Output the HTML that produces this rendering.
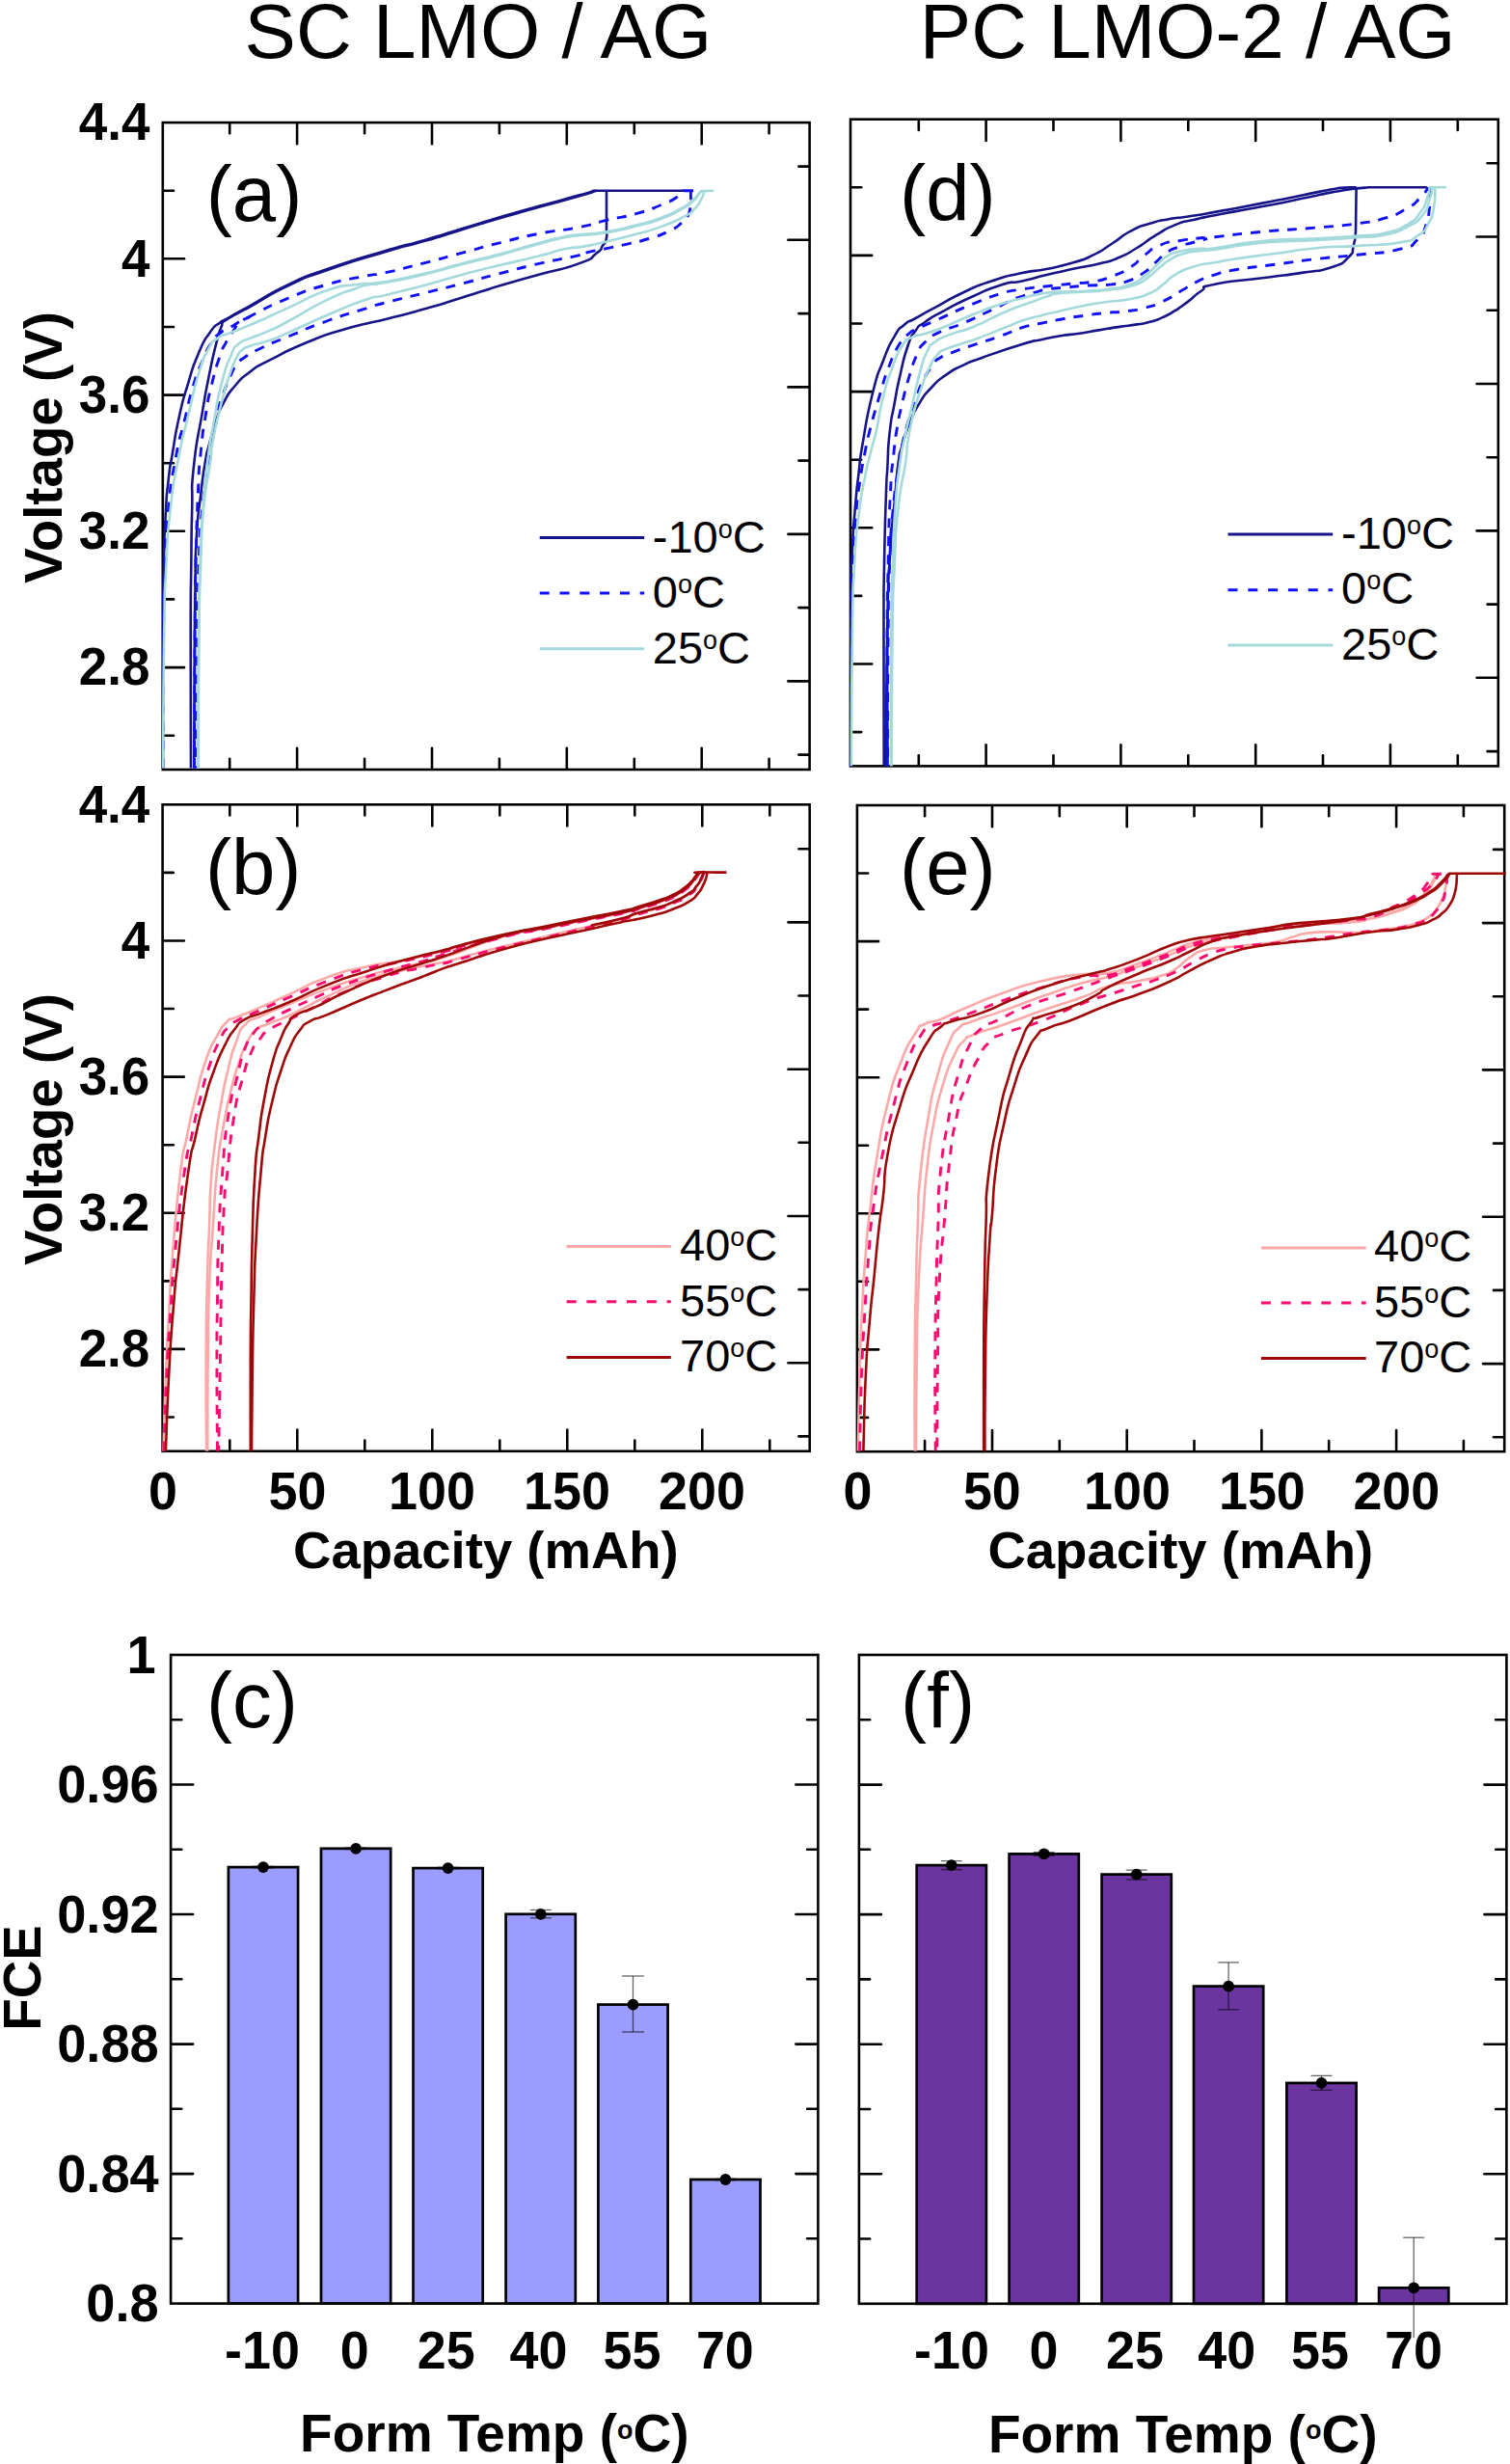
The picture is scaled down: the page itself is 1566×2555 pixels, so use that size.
<!DOCTYPE html>
<html lang="en"><head><meta charset="utf-8"><title>Figure</title>
<style>html,body{margin:0;padding:0;background:#fff}svg{display:block}</style></head>
<body>
<svg width="1566" height="2555" viewBox="0 0 1566 2555" font-family="'Liberation Sans', Arial, sans-serif" fill="#000">
<rect width="1566" height="2555" fill="#fff"/>
<text x="495.9" y="60.3" font-size="80" text-anchor="middle" >SC LMO / AG</text>
<text x="1231.7" y="59.7" font-size="80" text-anchor="middle" >PC LMO-2 / AG</text>
<clipPath id="cpa"><rect x="167.3" y="127.1" width="673.8" height="672.2"/></clipPath>
<clipPath id="cpb"><rect x="167.1" y="834.3" width="674.1" height="671.8"/></clipPath>
<clipPath id="cpd"><rect x="880.5" y="123.7" width="674.8" height="672.0"/></clipPath>
<clipPath id="cpe"><rect x="887.4" y="835.0" width="674.3" height="671.5"/></clipPath>
<rect x="168.8" y="127.1" width="670.8" height="670.9" fill="none" stroke="#000" stroke-width="2.6"/>
<line x1="238.2" y1="127.7" x2="238.2" y2="138.3" stroke="#000" stroke-width="2.6" stroke-linecap="round"/>
<line x1="238.2" y1="797.4" x2="238.2" y2="786.8" stroke="#000" stroke-width="2.6" stroke-linecap="round"/>
<line x1="308.1" y1="127.7" x2="308.1" y2="149.3" stroke="#000" stroke-width="2.6" stroke-linecap="round"/>
<line x1="308.1" y1="797.4" x2="308.1" y2="775.8" stroke="#000" stroke-width="2.6" stroke-linecap="round"/>
<line x1="378.1" y1="127.7" x2="378.1" y2="138.3" stroke="#000" stroke-width="2.6" stroke-linecap="round"/>
<line x1="378.1" y1="797.4" x2="378.1" y2="786.8" stroke="#000" stroke-width="2.6" stroke-linecap="round"/>
<line x1="448.0" y1="127.7" x2="448.0" y2="149.3" stroke="#000" stroke-width="2.6" stroke-linecap="round"/>
<line x1="448.0" y1="797.4" x2="448.0" y2="775.8" stroke="#000" stroke-width="2.6" stroke-linecap="round"/>
<line x1="517.9" y1="127.7" x2="517.9" y2="138.3" stroke="#000" stroke-width="2.6" stroke-linecap="round"/>
<line x1="517.9" y1="797.4" x2="517.9" y2="786.8" stroke="#000" stroke-width="2.6" stroke-linecap="round"/>
<line x1="587.8" y1="127.7" x2="587.8" y2="149.3" stroke="#000" stroke-width="2.6" stroke-linecap="round"/>
<line x1="587.8" y1="797.4" x2="587.8" y2="775.8" stroke="#000" stroke-width="2.6" stroke-linecap="round"/>
<line x1="657.8" y1="127.7" x2="657.8" y2="138.3" stroke="#000" stroke-width="2.6" stroke-linecap="round"/>
<line x1="657.8" y1="797.4" x2="657.8" y2="786.8" stroke="#000" stroke-width="2.6" stroke-linecap="round"/>
<line x1="727.7" y1="127.7" x2="727.7" y2="149.3" stroke="#000" stroke-width="2.6" stroke-linecap="round"/>
<line x1="727.7" y1="797.4" x2="727.7" y2="775.8" stroke="#000" stroke-width="2.6" stroke-linecap="round"/>
<line x1="797.6" y1="127.7" x2="797.6" y2="138.3" stroke="#000" stroke-width="2.6" stroke-linecap="round"/>
<line x1="797.6" y1="797.4" x2="797.6" y2="786.8" stroke="#000" stroke-width="2.6" stroke-linecap="round"/>
<line x1="169.4" y1="197.7" x2="180.0" y2="197.7" stroke="#000" stroke-width="2.6" stroke-linecap="round"/>
<line x1="169.4" y1="268.3" x2="191.0" y2="268.3" stroke="#000" stroke-width="2.6" stroke-linecap="round"/>
<line x1="169.4" y1="339.0" x2="180.0" y2="339.0" stroke="#000" stroke-width="2.6" stroke-linecap="round"/>
<line x1="169.4" y1="409.6" x2="191.0" y2="409.6" stroke="#000" stroke-width="2.6" stroke-linecap="round"/>
<line x1="169.4" y1="480.2" x2="180.0" y2="480.2" stroke="#000" stroke-width="2.6" stroke-linecap="round"/>
<line x1="169.4" y1="550.8" x2="191.0" y2="550.8" stroke="#000" stroke-width="2.6" stroke-linecap="round"/>
<line x1="169.4" y1="621.4" x2="180.0" y2="621.4" stroke="#000" stroke-width="2.6" stroke-linecap="round"/>
<line x1="169.4" y1="692.1" x2="191.0" y2="692.1" stroke="#000" stroke-width="2.6" stroke-linecap="round"/>
<line x1="169.4" y1="762.7" x2="180.0" y2="762.7" stroke="#000" stroke-width="2.6" stroke-linecap="round"/>
<line x1="839.0" y1="172.6" x2="828.4" y2="172.6" stroke="#000" stroke-width="2.6" stroke-linecap="round"/>
<line x1="839.0" y1="248.8" x2="817.4" y2="248.8" stroke="#000" stroke-width="2.6" stroke-linecap="round"/>
<line x1="839.0" y1="325.1" x2="828.4" y2="325.1" stroke="#000" stroke-width="2.6" stroke-linecap="round"/>
<line x1="839.0" y1="401.4" x2="817.4" y2="401.4" stroke="#000" stroke-width="2.6" stroke-linecap="round"/>
<line x1="839.0" y1="477.6" x2="828.4" y2="477.6" stroke="#000" stroke-width="2.6" stroke-linecap="round"/>
<line x1="839.0" y1="553.9" x2="817.4" y2="553.9" stroke="#000" stroke-width="2.6" stroke-linecap="round"/>
<line x1="839.0" y1="630.1" x2="828.4" y2="630.1" stroke="#000" stroke-width="2.6" stroke-linecap="round"/>
<line x1="839.0" y1="706.4" x2="817.4" y2="706.4" stroke="#000" stroke-width="2.6" stroke-linecap="round"/>
<line x1="839.0" y1="782.6" x2="828.4" y2="782.6" stroke="#000" stroke-width="2.6" stroke-linecap="round"/>
<text transform="translate(155.4,145.4) scale(0.945,1)" font-size="56" font-weight="bold" text-anchor="end" >4.4</text>
<text transform="translate(155.4,286.6) scale(0.945,1)" font-size="56" font-weight="bold" text-anchor="end" >4</text>
<text transform="translate(155.4,427.9) scale(0.945,1)" font-size="56" font-weight="bold" text-anchor="end" >3.6</text>
<text transform="translate(155.4,569.1) scale(0.945,1)" font-size="56" font-weight="bold" text-anchor="end" >3.2</text>
<text transform="translate(155.4,710.4) scale(0.945,1)" font-size="56" font-weight="bold" text-anchor="end" >2.8</text>
<text x="213.7" y="228.5" font-size="81.5" text-anchor="start" >(a)</text>
<rect x="168.6" y="834.3" width="671.1" height="670.5" fill="none" stroke="#000" stroke-width="2.6"/>
<line x1="238.3" y1="834.9" x2="238.3" y2="845.5" stroke="#000" stroke-width="2.6" stroke-linecap="round"/>
<line x1="238.3" y1="1504.2" x2="238.3" y2="1493.6" stroke="#000" stroke-width="2.6" stroke-linecap="round"/>
<line x1="308.3" y1="834.9" x2="308.3" y2="856.5" stroke="#000" stroke-width="2.6" stroke-linecap="round"/>
<line x1="308.3" y1="1504.2" x2="308.3" y2="1482.6" stroke="#000" stroke-width="2.6" stroke-linecap="round"/>
<line x1="378.3" y1="834.9" x2="378.3" y2="845.5" stroke="#000" stroke-width="2.6" stroke-linecap="round"/>
<line x1="378.3" y1="1504.2" x2="378.3" y2="1493.6" stroke="#000" stroke-width="2.6" stroke-linecap="round"/>
<line x1="448.3" y1="834.9" x2="448.3" y2="856.5" stroke="#000" stroke-width="2.6" stroke-linecap="round"/>
<line x1="448.3" y1="1504.2" x2="448.3" y2="1482.6" stroke="#000" stroke-width="2.6" stroke-linecap="round"/>
<line x1="518.3" y1="834.9" x2="518.3" y2="845.5" stroke="#000" stroke-width="2.6" stroke-linecap="round"/>
<line x1="518.3" y1="1504.2" x2="518.3" y2="1493.6" stroke="#000" stroke-width="2.6" stroke-linecap="round"/>
<line x1="588.3" y1="834.9" x2="588.3" y2="856.5" stroke="#000" stroke-width="2.6" stroke-linecap="round"/>
<line x1="588.3" y1="1504.2" x2="588.3" y2="1482.6" stroke="#000" stroke-width="2.6" stroke-linecap="round"/>
<line x1="658.3" y1="834.9" x2="658.3" y2="845.5" stroke="#000" stroke-width="2.6" stroke-linecap="round"/>
<line x1="658.3" y1="1504.2" x2="658.3" y2="1493.6" stroke="#000" stroke-width="2.6" stroke-linecap="round"/>
<line x1="728.3" y1="834.9" x2="728.3" y2="856.5" stroke="#000" stroke-width="2.6" stroke-linecap="round"/>
<line x1="728.3" y1="1504.2" x2="728.3" y2="1482.6" stroke="#000" stroke-width="2.6" stroke-linecap="round"/>
<line x1="798.3" y1="834.9" x2="798.3" y2="845.5" stroke="#000" stroke-width="2.6" stroke-linecap="round"/>
<line x1="798.3" y1="1504.2" x2="798.3" y2="1493.6" stroke="#000" stroke-width="2.6" stroke-linecap="round"/>
<line x1="169.2" y1="904.9" x2="179.8" y2="904.9" stroke="#000" stroke-width="2.6" stroke-linecap="round"/>
<line x1="169.2" y1="975.5" x2="190.8" y2="975.5" stroke="#000" stroke-width="2.6" stroke-linecap="round"/>
<line x1="169.2" y1="1046.0" x2="179.8" y2="1046.0" stroke="#000" stroke-width="2.6" stroke-linecap="round"/>
<line x1="169.2" y1="1116.6" x2="190.8" y2="1116.6" stroke="#000" stroke-width="2.6" stroke-linecap="round"/>
<line x1="169.2" y1="1187.2" x2="179.8" y2="1187.2" stroke="#000" stroke-width="2.6" stroke-linecap="round"/>
<line x1="169.2" y1="1257.8" x2="190.8" y2="1257.8" stroke="#000" stroke-width="2.6" stroke-linecap="round"/>
<line x1="169.2" y1="1328.4" x2="179.8" y2="1328.4" stroke="#000" stroke-width="2.6" stroke-linecap="round"/>
<line x1="169.2" y1="1398.9" x2="190.8" y2="1398.9" stroke="#000" stroke-width="2.6" stroke-linecap="round"/>
<line x1="169.2" y1="1469.5" x2="179.8" y2="1469.5" stroke="#000" stroke-width="2.6" stroke-linecap="round"/>
<line x1="839.1" y1="880.2" x2="828.5" y2="880.2" stroke="#000" stroke-width="2.6" stroke-linecap="round"/>
<line x1="839.1" y1="956.4" x2="817.5" y2="956.4" stroke="#000" stroke-width="2.6" stroke-linecap="round"/>
<line x1="839.1" y1="1032.5" x2="828.5" y2="1032.5" stroke="#000" stroke-width="2.6" stroke-linecap="round"/>
<line x1="839.1" y1="1108.7" x2="817.5" y2="1108.7" stroke="#000" stroke-width="2.6" stroke-linecap="round"/>
<line x1="839.1" y1="1184.8" x2="828.5" y2="1184.8" stroke="#000" stroke-width="2.6" stroke-linecap="round"/>
<line x1="839.1" y1="1261.0" x2="817.5" y2="1261.0" stroke="#000" stroke-width="2.6" stroke-linecap="round"/>
<line x1="839.1" y1="1337.1" x2="828.5" y2="1337.1" stroke="#000" stroke-width="2.6" stroke-linecap="round"/>
<line x1="839.1" y1="1413.2" x2="817.5" y2="1413.2" stroke="#000" stroke-width="2.6" stroke-linecap="round"/>
<line x1="839.1" y1="1489.4" x2="828.5" y2="1489.4" stroke="#000" stroke-width="2.6" stroke-linecap="round"/>
<text transform="translate(155.2,852.6) scale(0.945,1)" font-size="56" font-weight="bold" text-anchor="end" >4.4</text>
<text transform="translate(155.2,993.8) scale(0.945,1)" font-size="56" font-weight="bold" text-anchor="end" >4</text>
<text transform="translate(155.2,1134.9) scale(0.945,1)" font-size="56" font-weight="bold" text-anchor="end" >3.6</text>
<text transform="translate(155.2,1276.1) scale(0.945,1)" font-size="56" font-weight="bold" text-anchor="end" >3.2</text>
<text transform="translate(155.2,1417.2) scale(0.945,1)" font-size="56" font-weight="bold" text-anchor="end" >2.8</text>
<text transform="translate(169.0,1564.8) scale(0.97,1)" font-size="55.5" font-weight="bold" text-anchor="middle" >0</text>
<text transform="translate(308.5,1564.8) scale(0.97,1)" font-size="55.5" font-weight="bold" text-anchor="middle" >50</text>
<text transform="translate(448.0,1564.8) scale(0.97,1)" font-size="55.5" font-weight="bold" text-anchor="middle" >100</text>
<text transform="translate(588.0,1564.8) scale(0.97,1)" font-size="55.5" font-weight="bold" text-anchor="middle" >150</text>
<text transform="translate(728.0,1564.8) scale(0.97,1)" font-size="55.5" font-weight="bold" text-anchor="middle" >200</text>
<text x="212.9" y="927.3" font-size="81.5" text-anchor="start" >(b)</text>
<rect x="882.0" y="123.7" width="671.8" height="670.7" fill="none" stroke="#000" stroke-width="2.6"/>
<line x1="952.8" y1="124.3" x2="952.8" y2="134.9" stroke="#000" stroke-width="2.6" stroke-linecap="round"/>
<line x1="952.8" y1="793.8" x2="952.8" y2="783.2" stroke="#000" stroke-width="2.6" stroke-linecap="round"/>
<line x1="1022.6" y1="124.3" x2="1022.6" y2="145.9" stroke="#000" stroke-width="2.6" stroke-linecap="round"/>
<line x1="1022.6" y1="793.8" x2="1022.6" y2="772.2" stroke="#000" stroke-width="2.6" stroke-linecap="round"/>
<line x1="1092.5" y1="124.3" x2="1092.5" y2="134.9" stroke="#000" stroke-width="2.6" stroke-linecap="round"/>
<line x1="1092.5" y1="793.8" x2="1092.5" y2="783.2" stroke="#000" stroke-width="2.6" stroke-linecap="round"/>
<line x1="1162.4" y1="124.3" x2="1162.4" y2="145.9" stroke="#000" stroke-width="2.6" stroke-linecap="round"/>
<line x1="1162.4" y1="793.8" x2="1162.4" y2="772.2" stroke="#000" stroke-width="2.6" stroke-linecap="round"/>
<line x1="1232.3" y1="124.3" x2="1232.3" y2="134.9" stroke="#000" stroke-width="2.6" stroke-linecap="round"/>
<line x1="1232.3" y1="793.8" x2="1232.3" y2="783.2" stroke="#000" stroke-width="2.6" stroke-linecap="round"/>
<line x1="1302.2" y1="124.3" x2="1302.2" y2="145.9" stroke="#000" stroke-width="2.6" stroke-linecap="round"/>
<line x1="1302.2" y1="793.8" x2="1302.2" y2="772.2" stroke="#000" stroke-width="2.6" stroke-linecap="round"/>
<line x1="1372.0" y1="124.3" x2="1372.0" y2="134.9" stroke="#000" stroke-width="2.6" stroke-linecap="round"/>
<line x1="1372.0" y1="793.8" x2="1372.0" y2="783.2" stroke="#000" stroke-width="2.6" stroke-linecap="round"/>
<line x1="1441.9" y1="124.3" x2="1441.9" y2="145.9" stroke="#000" stroke-width="2.6" stroke-linecap="round"/>
<line x1="1441.9" y1="793.8" x2="1441.9" y2="772.2" stroke="#000" stroke-width="2.6" stroke-linecap="round"/>
<line x1="1511.8" y1="124.3" x2="1511.8" y2="134.9" stroke="#000" stroke-width="2.6" stroke-linecap="round"/>
<line x1="1511.8" y1="793.8" x2="1511.8" y2="783.2" stroke="#000" stroke-width="2.6" stroke-linecap="round"/>
<line x1="882.6" y1="194.3" x2="893.2" y2="194.3" stroke="#000" stroke-width="2.6" stroke-linecap="round"/>
<line x1="882.6" y1="264.9" x2="904.2" y2="264.9" stroke="#000" stroke-width="2.6" stroke-linecap="round"/>
<line x1="882.6" y1="335.5" x2="893.2" y2="335.5" stroke="#000" stroke-width="2.6" stroke-linecap="round"/>
<line x1="882.6" y1="406.1" x2="904.2" y2="406.1" stroke="#000" stroke-width="2.6" stroke-linecap="round"/>
<line x1="882.6" y1="476.7" x2="893.2" y2="476.7" stroke="#000" stroke-width="2.6" stroke-linecap="round"/>
<line x1="882.6" y1="547.3" x2="904.2" y2="547.3" stroke="#000" stroke-width="2.6" stroke-linecap="round"/>
<line x1="882.6" y1="617.9" x2="893.2" y2="617.9" stroke="#000" stroke-width="2.6" stroke-linecap="round"/>
<line x1="882.6" y1="688.5" x2="904.2" y2="688.5" stroke="#000" stroke-width="2.6" stroke-linecap="round"/>
<line x1="882.6" y1="759.1" x2="893.2" y2="759.1" stroke="#000" stroke-width="2.6" stroke-linecap="round"/>
<line x1="1553.2" y1="169.3" x2="1542.6" y2="169.3" stroke="#000" stroke-width="2.6" stroke-linecap="round"/>
<line x1="1553.2" y1="245.5" x2="1531.6" y2="245.5" stroke="#000" stroke-width="2.6" stroke-linecap="round"/>
<line x1="1553.2" y1="321.7" x2="1542.6" y2="321.7" stroke="#000" stroke-width="2.6" stroke-linecap="round"/>
<line x1="1553.2" y1="398.0" x2="1531.6" y2="398.0" stroke="#000" stroke-width="2.6" stroke-linecap="round"/>
<line x1="1553.2" y1="474.2" x2="1542.6" y2="474.2" stroke="#000" stroke-width="2.6" stroke-linecap="round"/>
<line x1="1553.2" y1="550.4" x2="1531.6" y2="550.4" stroke="#000" stroke-width="2.6" stroke-linecap="round"/>
<line x1="1553.2" y1="626.6" x2="1542.6" y2="626.6" stroke="#000" stroke-width="2.6" stroke-linecap="round"/>
<line x1="1553.2" y1="702.8" x2="1531.6" y2="702.8" stroke="#000" stroke-width="2.6" stroke-linecap="round"/>
<line x1="1553.2" y1="779.1" x2="1542.6" y2="779.1" stroke="#000" stroke-width="2.6" stroke-linecap="round"/>
<text x="933.0" y="227.8" font-size="81.5" text-anchor="start" >(d)</text>
<rect x="888.9" y="835.0" width="671.3" height="670.2" fill="none" stroke="#000" stroke-width="2.6"/>
<line x1="959.1" y1="835.6" x2="959.1" y2="846.2" stroke="#000" stroke-width="2.6" stroke-linecap="round"/>
<line x1="959.1" y1="1504.6" x2="959.1" y2="1494.0" stroke="#000" stroke-width="2.6" stroke-linecap="round"/>
<line x1="1029.0" y1="835.6" x2="1029.0" y2="857.2" stroke="#000" stroke-width="2.6" stroke-linecap="round"/>
<line x1="1029.0" y1="1504.6" x2="1029.0" y2="1483.0" stroke="#000" stroke-width="2.6" stroke-linecap="round"/>
<line x1="1098.8" y1="835.6" x2="1098.8" y2="846.2" stroke="#000" stroke-width="2.6" stroke-linecap="round"/>
<line x1="1098.8" y1="1504.6" x2="1098.8" y2="1494.0" stroke="#000" stroke-width="2.6" stroke-linecap="round"/>
<line x1="1168.7" y1="835.6" x2="1168.7" y2="857.2" stroke="#000" stroke-width="2.6" stroke-linecap="round"/>
<line x1="1168.7" y1="1504.6" x2="1168.7" y2="1483.0" stroke="#000" stroke-width="2.6" stroke-linecap="round"/>
<line x1="1238.5" y1="835.6" x2="1238.5" y2="846.2" stroke="#000" stroke-width="2.6" stroke-linecap="round"/>
<line x1="1238.5" y1="1504.6" x2="1238.5" y2="1494.0" stroke="#000" stroke-width="2.6" stroke-linecap="round"/>
<line x1="1308.4" y1="835.6" x2="1308.4" y2="857.2" stroke="#000" stroke-width="2.6" stroke-linecap="round"/>
<line x1="1308.4" y1="1504.6" x2="1308.4" y2="1483.0" stroke="#000" stroke-width="2.6" stroke-linecap="round"/>
<line x1="1378.2" y1="835.6" x2="1378.2" y2="846.2" stroke="#000" stroke-width="2.6" stroke-linecap="round"/>
<line x1="1378.2" y1="1504.6" x2="1378.2" y2="1494.0" stroke="#000" stroke-width="2.6" stroke-linecap="round"/>
<line x1="1448.1" y1="835.6" x2="1448.1" y2="857.2" stroke="#000" stroke-width="2.6" stroke-linecap="round"/>
<line x1="1448.1" y1="1504.6" x2="1448.1" y2="1483.0" stroke="#000" stroke-width="2.6" stroke-linecap="round"/>
<line x1="1517.9" y1="835.6" x2="1517.9" y2="846.2" stroke="#000" stroke-width="2.6" stroke-linecap="round"/>
<line x1="1517.9" y1="1504.6" x2="1517.9" y2="1494.0" stroke="#000" stroke-width="2.6" stroke-linecap="round"/>
<line x1="889.5" y1="905.5" x2="900.1" y2="905.5" stroke="#000" stroke-width="2.6" stroke-linecap="round"/>
<line x1="889.5" y1="976.1" x2="911.1" y2="976.1" stroke="#000" stroke-width="2.6" stroke-linecap="round"/>
<line x1="889.5" y1="1046.6" x2="900.1" y2="1046.6" stroke="#000" stroke-width="2.6" stroke-linecap="round"/>
<line x1="889.5" y1="1117.2" x2="911.1" y2="1117.2" stroke="#000" stroke-width="2.6" stroke-linecap="round"/>
<line x1="889.5" y1="1187.7" x2="900.1" y2="1187.7" stroke="#000" stroke-width="2.6" stroke-linecap="round"/>
<line x1="889.5" y1="1258.3" x2="911.1" y2="1258.3" stroke="#000" stroke-width="2.6" stroke-linecap="round"/>
<line x1="889.5" y1="1328.8" x2="900.1" y2="1328.8" stroke="#000" stroke-width="2.6" stroke-linecap="round"/>
<line x1="889.5" y1="1399.4" x2="911.1" y2="1399.4" stroke="#000" stroke-width="2.6" stroke-linecap="round"/>
<line x1="889.5" y1="1469.9" x2="900.1" y2="1469.9" stroke="#000" stroke-width="2.6" stroke-linecap="round"/>
<line x1="1559.6" y1="880.9" x2="1549.0" y2="880.9" stroke="#000" stroke-width="2.6" stroke-linecap="round"/>
<line x1="1559.6" y1="957.1" x2="1538.0" y2="957.1" stroke="#000" stroke-width="2.6" stroke-linecap="round"/>
<line x1="1559.6" y1="1033.2" x2="1549.0" y2="1033.2" stroke="#000" stroke-width="2.6" stroke-linecap="round"/>
<line x1="1559.6" y1="1109.4" x2="1538.0" y2="1109.4" stroke="#000" stroke-width="2.6" stroke-linecap="round"/>
<line x1="1559.6" y1="1185.6" x2="1549.0" y2="1185.6" stroke="#000" stroke-width="2.6" stroke-linecap="round"/>
<line x1="1559.6" y1="1261.8" x2="1538.0" y2="1261.8" stroke="#000" stroke-width="2.6" stroke-linecap="round"/>
<line x1="1559.6" y1="1337.9" x2="1549.0" y2="1337.9" stroke="#000" stroke-width="2.6" stroke-linecap="round"/>
<line x1="1559.6" y1="1414.1" x2="1538.0" y2="1414.1" stroke="#000" stroke-width="2.6" stroke-linecap="round"/>
<line x1="1559.6" y1="1490.3" x2="1549.0" y2="1490.3" stroke="#000" stroke-width="2.6" stroke-linecap="round"/>
<text transform="translate(889.5,1565.2) scale(0.97,1)" font-size="55.5" font-weight="bold" text-anchor="middle" >0</text>
<text transform="translate(1028.8,1565.2) scale(0.97,1)" font-size="55.5" font-weight="bold" text-anchor="middle" >50</text>
<text transform="translate(1169.0,1565.2) scale(0.97,1)" font-size="55.5" font-weight="bold" text-anchor="middle" >100</text>
<text transform="translate(1308.9,1565.2) scale(0.97,1)" font-size="55.5" font-weight="bold" text-anchor="middle" >150</text>
<text transform="translate(1448.3,1565.2) scale(0.97,1)" font-size="55.5" font-weight="bold" text-anchor="middle" >200</text>
<text x="933.1" y="927.0" font-size="81.5" text-anchor="start" >(e)</text>
<g clip-path="url(#cpa)">
<path d="M168.8,796.5C168.9,750.7 168.7,729.3 169.1,659.1C169.4,589.0 169.1,627.5 169.9,586.1C170.8,544.7 170.1,564.2 171.7,535.0C173.2,505.7 172.2,520.4 174.6,498.4C177.0,476.5 175.3,491.3 179.0,469.2C182.7,447.2 180.6,455.9 185.8,432.3C191.1,408.8 188.1,420.4 194.8,398.6C201.4,376.7 198.1,384.6 205.7,366.8C213.3,348.9 210.3,355.5 217.6,344.9C224.9,334.3 221.6,339.8 227.6,335.0C233.5,330.1 224.9,336.4 235.5,330.4C246.1,324.4 238.2,328.8 259.3,317.1C280.5,305.4 272.6,307.8 299.1,295.2C325.6,282.7 305.7,290.9 338.8,279.3C371.9,267.8 364.8,270.5 398.4,260.5C432.1,250.4 412.7,257.0 439.7,249.2C466.7,241.4 453.0,245.1 479.5,237.0C506.0,229.0 492.7,232.8 519.2,225.1C545.7,217.4 532.0,221.3 558.9,213.8C585.9,206.3 581.0,207.9 600.0,202.6C619.0,197.2 610.5,199.4 615.8,197.8L709.8,197.8" fill="none" stroke="#17148a" stroke-width="2.6" stroke-linejoin="round"/>
<path d="M198.0,796.5C197.9,750.7 197.6,729.3 197.7,659.1C197.8,589.0 197.8,629.9 198.3,586.1C198.8,542.3 198.3,561.7 199.2,527.7C200.0,493.6 197.4,516.9 200.9,483.8C204.4,450.7 204.4,459.4 209.7,428.4C214.9,397.3 212.0,413.8 216.6,390.6C221.3,367.4 219.3,376.0 223.6,358.8C227.9,341.6 225.9,348.0 229.5,339.0C233.2,329.9 224.6,338.8 234.5,331.8C244.4,324.8 237.8,329.9 259.3,318.1C280.9,306.2 272.6,308.8 299.1,296.2C325.6,283.6 305.7,291.9 338.8,280.3C371.9,268.7 364.8,271.5 398.4,261.5C432.1,251.4 412.7,258.0 439.7,250.1C466.7,242.3 453.0,246.0 479.5,237.9C506.0,229.9 492.7,233.8 519.2,226.0C545.7,218.3 532.0,222.3 558.9,214.8C585.9,207.3 580.1,209.2 600.0,203.5C619.9,197.9 612.3,199.7 618.5,197.8" fill="none" stroke="#17148a" stroke-width="2.6" stroke-linejoin="round"/>
<path d="M629.0,197.8L629.0,240.0C628.9,242.7 630.1,243.2 628.7,248.1C627.4,253.1 628.5,249.9 625.0,254.8C621.6,259.6 626.8,256.5 618.4,262.7C610.1,268.9 619.8,266.1 600.0,273.4C580.2,280.8 585.9,277.2 558.9,284.7C532.0,292.2 545.7,288.0 519.2,296.0C492.7,303.9 506.0,300.4 479.5,308.5C453.0,316.7 466.2,313.0 439.7,320.5C413.2,328.0 427.0,324.2 400.0,331.1C373.0,337.9 385.7,333.0 358.7,340.9C331.7,348.9 345.4,343.9 319.0,354.8C292.5,365.8 299.1,363.5 279.2,373.7C259.3,384.0 271.3,376.7 259.3,385.6C247.4,394.6 252.7,389.6 243.4,400.5C234.2,411.5 238.2,405.8 231.5,418.4C224.9,431.0 228.5,423.7 223.6,438.3C218.6,452.9 220.3,448.2 216.6,462.1C213.0,476.0 215.5,463.1 212.7,480.0C209.8,497.0 211.2,487.4 208.2,513.0C205.3,538.7 205.8,522.8 203.8,556.9C201.9,591.0 203.1,566.6 202.4,615.3C201.6,664.0 202.0,642.6 201.6,703.0C201.3,763.4 201.4,765.3 201.3,796.5" fill="none" stroke="#17148a" stroke-width="2.6" stroke-linejoin="round"/>
<path d="M169.1,796.5C169.3,750.7 169.0,729.3 169.6,659.1C170.3,589.0 169.3,629.9 171.0,586.1C172.6,542.3 171.0,564.2 174.6,527.7C178.3,491.1 176.2,507.6 181.9,476.5C187.6,445.4 185.8,459.0 191.8,434.3C197.7,409.7 193.8,422.4 199.7,402.5C205.7,382.7 203.0,390.6 209.7,374.7C216.3,358.8 213.6,364.4 219.6,354.8C225.6,345.2 220.9,351.2 227.6,345.9C234.2,340.6 228.9,344.9 239.5,339.0C250.1,333.0 239.5,338.0 259.3,328.0C279.2,318.1 272.6,320.1 299.1,309.1C325.6,298.2 312.3,302.9 338.8,295.2C365.3,287.6 358.2,290.5 378.6,286.3C399.0,282.1 379.6,287.2 400.0,282.7C420.4,278.2 413.2,279.6 439.7,272.8C466.2,265.9 453.0,269.2 479.5,262.2C506.0,255.1 492.7,258.2 519.2,251.6C545.7,245.0 532.0,247.6 558.9,242.3C585.9,237.0 576.6,240.4 600.0,235.7C623.4,231.0 609.2,233.0 629.0,228.3C648.8,223.6 640.5,227.0 659.5,221.7C678.5,216.4 671.8,218.1 686.0,212.4C700.1,206.6 694.1,209.3 701.9,204.4C709.6,199.6 706.7,200.0 709.1,197.8L725.0,197.8" fill="none" stroke="#1010ff" stroke-width="2.9" stroke-dasharray="10 9" stroke-linejoin="round"/>
<path d="M201.6,796.5C201.8,750.7 201.6,729.3 202.1,659.1C202.6,589.0 202.0,634.8 203.1,586.1C204.2,537.4 203.6,552.0 205.3,513.0C207.0,474.1 205.4,497.4 208.2,469.2C211.0,441.0 209.8,451.9 213.6,428.4C217.4,404.8 215.0,417.8 219.6,398.6C224.2,379.4 222.6,385.3 227.6,370.7C232.5,356.2 229.9,363.8 234.5,354.8C239.1,345.9 236.8,350.7 241.5,343.9C246.1,337.2 242.5,339.7 248.4,334.6C254.4,329.4 255.7,330.5 259.3,328.4" fill="none" stroke="#1010ff" stroke-width="2.9" stroke-dasharray="10 9" stroke-linejoin="round"/>
<path d="M716.4,197.8L716.4,206.0C716.4,206.8 717.3,202.8 716.4,208.4C715.5,214.1 716.9,215.5 713.8,223.0C710.7,230.5 714.2,225.2 707.2,230.9C700.1,236.7 704.1,234.7 692.6,240.2C681.1,245.7 686.4,243.3 672.7,247.5C659.0,251.7 665.7,249.5 651.5,252.8C637.4,256.1 644.0,254.5 630.3,257.4C616.6,260.3 620.6,258.9 610.5,261.4C600.4,263.9 617.2,260.8 600.0,264.8C582.8,268.9 585.9,267.3 558.9,273.4C532.0,279.6 545.7,276.5 519.2,283.4C492.7,290.2 506.0,287.1 479.5,294.0C453.0,300.8 466.2,297.3 439.7,303.9C413.2,310.5 420.4,308.5 400.0,313.8C379.6,319.2 399.0,313.7 378.6,320.1C358.2,326.5 365.3,323.4 338.8,333.0C312.3,342.6 321.6,339.6 299.1,348.9C276.6,358.2 286.5,353.5 271.3,360.8C256.0,368.1 262.0,364.8 253.4,370.7C244.8,376.7 250.1,372.7 245.4,378.7C240.8,384.6 244.1,378.7 239.5,388.6C234.8,398.6 236.2,395.2 231.5,408.5C226.9,421.7 229.5,411.8 225.6,428.4C221.6,444.9 222.6,440.9 219.6,458.2C216.6,475.4 219.9,456.9 216.6,480.0C213.3,503.2 213.2,492.3 209.7,527.7C206.1,563.0 208.0,542.3 206.0,586.1C204.1,629.9 204.8,589.0 203.8,659.1C202.9,729.3 203.3,750.7 203.1,796.5" fill="none" stroke="#1010ff" stroke-width="2.9" stroke-dasharray="10 9" stroke-linejoin="round"/>
<path d="M169.1,796.5C169.4,750.7 169.1,729.3 170.2,659.1C171.3,589.0 170.2,629.9 172.4,586.1C174.6,542.3 172.7,564.2 176.8,527.7C180.9,491.1 178.5,509.6 184.8,476.5C191.2,443.4 188.8,457.7 195.8,428.4C202.7,399.1 199.1,410.5 205.7,388.6C212.3,366.8 209.0,375.4 215.6,362.8C222.3,350.2 217.6,356.8 225.6,350.9C233.5,344.9 228.2,349.5 239.5,344.9C250.7,340.3 239.5,345.6 259.3,337.0C279.2,328.4 272.6,331.0 299.1,319.1C325.6,307.2 315.6,309.1 338.8,301.2C362.0,293.3 348.8,298.2 368.6,295.2C388.5,292.3 374.7,296.1 398.4,292.3C422.1,288.4 412.7,290.1 439.7,283.8C466.7,277.4 453.0,280.0 479.5,273.2C506.0,266.3 492.7,270.3 519.2,263.2C545.7,256.2 536.9,257.9 558.9,252.0C581.0,246.0 571.7,248.2 585.4,245.4C599.1,242.5 585.5,245.1 600.0,243.4C614.5,241.7 609.2,243.5 629.0,240.2C648.8,236.9 640.5,238.4 659.5,233.6C678.5,228.7 670.5,231.4 686.0,225.6C701.4,219.9 695.2,222.1 705.8,216.4C716.4,210.6 710.7,214.5 717.7,208.4C724.8,202.3 723.9,201.5 727.0,198.1L740.3,197.8" fill="none" stroke="#a5dadc" stroke-width="2.6" stroke-linejoin="round"/>
<path d="M205.3,796.5C205.5,750.7 205.3,729.3 206.0,659.1C206.7,589.0 206.0,629.9 207.5,586.1C208.9,542.3 207.7,564.2 210.4,527.7C213.1,491.1 211.8,506.3 215.5,476.5C219.2,446.7 216.9,464.3 221.6,438.3C226.3,412.3 223.6,421.7 229.5,398.6C235.5,375.4 233.5,382.7 239.5,368.8C245.4,354.8 240.8,362.8 247.4,356.8C254.0,350.9 248.7,355.5 259.3,350.9C269.9,346.2 266.0,348.9 279.2,342.9C292.5,337.0 279.2,343.6 299.1,333.0C319.0,322.4 315.6,322.4 338.8,311.1C362.0,299.9 354.1,304.5 368.6,299.2C383.2,293.9 372.6,297.2 382.5,295.2C392.5,293.3 379.4,296.8 398.4,293.3C417.5,289.7 412.7,291.1 439.7,284.7C466.7,278.3 453.0,280.9 479.5,274.1C506.0,267.3 492.7,271.2 519.2,264.2C545.7,257.1 536.9,258.9 558.9,252.9C581.0,247.0 571.7,249.2 585.4,246.3C599.1,243.4 585.5,246.0 600.0,244.3C614.5,242.6 609.2,244.5 629.0,241.3C648.8,238.0 640.5,239.5 659.5,234.6C678.5,229.8 670.5,232.4 686.0,226.7C701.4,220.9 695.2,223.2 705.8,217.4C716.4,211.7 711.5,214.8 717.7,209.5C724.0,204.2 721.4,205.3 724.6,201.5C727.9,197.8 726.6,199.3 727.5,198.2" fill="none" stroke="#a5dadc" stroke-width="2.6" stroke-linejoin="round"/>
<path d="M730.3,198.5C729.2,201.3 730.3,201.1 727.0,207.1C723.7,213.0 726.1,210.6 720.4,216.4C714.7,222.1 721.3,218.1 709.8,224.3C698.3,230.5 702.7,228.7 686.0,234.9C669.2,241.1 677.1,238.0 659.5,242.8C641.8,247.7 650.6,245.3 633.0,249.5C615.3,253.7 622.3,252.5 606.5,255.4C590.6,258.3 601.3,254.9 585.4,258.2C569.6,261.6 581.0,260.0 558.9,265.5C536.9,271.0 545.7,268.4 519.2,274.8C492.7,281.2 506.0,277.6 479.5,284.7C453.0,291.8 466.2,288.9 439.7,296.0C413.2,303.0 420.4,300.8 400.0,305.9C379.6,311.0 399.0,304.1 378.6,311.1C358.2,318.2 365.3,315.8 338.8,327.0C312.3,338.3 319.0,336.3 299.1,344.9C279.2,353.5 292.5,348.2 279.2,352.9C266.0,357.5 268.6,355.5 259.3,358.8C250.1,362.1 256.0,358.8 251.4,362.8C246.8,366.8 250.1,361.5 245.4,370.7C240.8,380.0 242.8,374.7 237.5,390.6C232.2,406.5 235.2,395.9 229.5,418.4C223.9,440.9 224.4,437.6 220.6,458.2C216.8,478.7 221.2,456.9 218.0,480.0C214.9,503.2 214.4,492.3 211.1,527.7C207.9,563.0 209.8,542.3 208.2,586.1C206.7,629.9 207.3,589.0 206.5,659.1C205.6,729.3 206.0,750.7 205.7,796.5" fill="none" stroke="#a5dadc" stroke-width="2.6" stroke-linejoin="round"/>
</g>
<g clip-path="url(#cpb)">
<path d="M169.5,1504.6C170.3,1478.6 170.1,1473.8 171.9,1426.7C173.8,1379.5 172.7,1405.5 175.1,1363.1C177.5,1320.7 175.2,1347.8 179.1,1299.5C183.0,1251.2 181.9,1258.6 186.8,1218.3C191.7,1178.0 188.5,1205.0 193.8,1178.6C199.1,1152.1 196.1,1165.3 202.7,1138.8C209.3,1112.3 206.0,1120.9 213.6,1099.1C221.3,1077.2 218.3,1086.5 225.6,1073.3C232.9,1060.0 229.5,1065.3 235.5,1059.3C241.5,1053.4 234.2,1059.3 243.4,1055.4C252.7,1051.4 244.8,1055.4 263.3,1047.4C281.9,1039.5 273.9,1042.8 299.1,1031.5C324.2,1020.3 312.3,1023.2 338.8,1013.6C365.3,1004.0 352.1,1008.7 378.6,1002.7C405.0,996.8 391.1,1001.3 418.3,995.8C445.4,990.3 440.9,990.9 460.0,986.2C479.2,981.5 455.2,987.0 475.7,981.7C496.2,976.4 490.9,977.2 521.4,970.3C551.9,963.5 536.6,967.3 567.1,961.2C597.6,955.1 585.0,957.6 612.8,952.0C640.6,946.5 634.5,948.1 650.6,944.6C666.7,941.0 650.6,944.6 661.2,941.4C671.8,938.2 670.0,939.3 682.4,935.0C694.7,930.8 689.4,932.9 698.3,928.7C707.1,924.4 702.9,926.6 708.9,922.3C714.9,918.1 712.4,919.9 716.3,916.0C720.2,912.1 718.1,914.0 720.5,910.7C723.0,907.3 722.6,907.6 723.7,906.0C724.1,905.5 721.7,905.1 724.8,904.6C727.9,904.1 730.3,904.6 733.0,904.6" fill="none" stroke="#ffa8a8" stroke-width="2.6" stroke-linejoin="round"/>
<path d="M214.1,1504.6C213.9,1473.3 213.5,1468.5 213.7,1410.8C214.0,1353.0 213.7,1379.0 214.8,1331.3C216.0,1283.6 216.0,1302.0 217.2,1267.7C218.5,1233.3 216.8,1254.6 218.6,1228.2C220.4,1201.8 219.3,1215.0 222.6,1188.5C225.9,1162.0 223.9,1175.2 228.5,1148.8C233.2,1122.3 230.9,1132.2 236.5,1109.0C242.1,1085.8 239.5,1094.8 245.4,1079.2C251.4,1063.6 245.8,1070.9 254.4,1062.3C263.0,1053.7 256.4,1060.3 271.3,1053.4C286.2,1046.4 276.6,1050.7 299.1,1041.5C321.6,1032.2 312.3,1035.2 338.8,1025.6C365.3,1016.0 352.1,1020.3 378.6,1012.7C405.0,1005.0 391.1,1009.3 418.3,1002.7C445.4,996.1 425.7,1003.3 460.0,992.8C494.4,982.3 485.7,981.5 521.4,971.3C557.1,961.1 536.6,968.3 567.1,962.2C597.6,956.1 585.0,958.6 612.8,953.0C640.6,947.5 634.5,949.1 650.6,945.6C666.7,942.0 650.6,945.6 661.2,942.4C671.8,939.2 670.0,940.3 682.4,936.0C694.7,931.8 689.4,933.9 698.3,929.7C707.1,925.4 702.9,927.6 708.9,923.3C714.9,919.1 712.4,920.9 716.3,917.0C720.2,913.1 718.1,915.0 720.5,911.7C723.0,908.3 722.6,908.6 723.7,907.0L725.5,904.6" fill="none" stroke="#ffa8a8" stroke-width="2.6" stroke-linejoin="round"/>
<path d="M730.0,904.6C729.8,904.9 730.6,903.0 729.5,905.4C728.5,907.8 729.4,907.0 726.9,911.8C724.4,916.6 726.4,914.6 722.1,919.7C717.9,924.9 722.1,921.9 714.2,927.2C706.2,932.5 708.9,930.9 698.3,935.6C687.7,940.4 694.7,937.6 682.4,941.5C670.0,945.3 674.2,943.3 661.2,947.3C648.1,951.2 659.4,949.0 643.3,953.3C627.1,957.6 638.2,954.3 612.8,960.2C587.4,966.0 597.6,963.7 567.1,970.8C536.6,977.9 551.9,973.9 521.4,981.5C490.9,989.1 496.2,988.3 475.7,993.7C455.2,999.1 479.2,993.6 460.0,997.8C440.9,1001.9 445.4,999.8 418.3,1006.1C391.1,1012.4 405.0,1007.5 378.6,1016.6C352.1,1025.8 358.7,1024.6 338.8,1033.5C319.0,1042.5 332.2,1036.8 319.0,1043.4C305.7,1050.1 312.3,1047.4 299.1,1053.4C285.8,1059.3 290.5,1056.4 279.2,1061.3C268.0,1066.3 273.3,1061.0 265.3,1068.3C257.4,1075.6 261.3,1071.6 255.4,1083.2C249.4,1094.8 252.7,1087.2 247.4,1103.1C242.1,1119.0 244.8,1109.0 239.5,1130.9C234.2,1152.7 236.2,1142.8 231.5,1168.6C226.9,1194.5 228.9,1177.9 225.6,1208.4C222.3,1238.8 223.0,1240.2 221.6,1260.0C220.1,1279.8 222.7,1243.9 221.2,1267.7C219.8,1291.5 219.1,1283.6 217.2,1331.3C215.4,1379.0 216.3,1353.0 215.6,1410.8C215.0,1468.5 215.4,1473.3 215.3,1504.6" fill="none" stroke="#ffa8a8" stroke-width="2.6" stroke-linejoin="round"/>
<path d="M169.9,1504.6C170.8,1478.6 170.4,1473.8 172.7,1426.7C175.0,1379.5 173.8,1405.5 176.7,1363.1C179.6,1320.7 176.8,1347.8 181.5,1299.5C186.2,1251.2 185.0,1258.6 190.8,1218.3C196.6,1178.0 193.4,1203.7 198.7,1178.6C204.0,1153.4 200.7,1166.6 206.7,1142.8C212.7,1119.0 209.7,1128.2 216.6,1107.0C223.6,1085.8 220.9,1093.1 227.6,1079.2C234.2,1065.3 230.5,1072.3 236.5,1065.3C242.5,1058.4 236.5,1063.3 245.4,1058.4C254.4,1053.4 245.4,1058.4 263.3,1050.4C281.2,1042.5 273.9,1045.4 299.1,1034.5C324.2,1023.6 312.3,1027.6 338.8,1017.6C365.3,1007.7 352.1,1011.7 378.6,1004.7C405.0,997.8 391.1,1002.7 418.3,996.8C445.4,990.8 440.9,991.7 460.0,986.8C479.2,982.0 455.2,987.6 475.7,982.2C496.2,976.9 490.9,977.7 521.4,970.8C551.9,964.0 536.6,967.8 567.1,961.7C597.6,955.6 585.0,958.1 612.8,952.5C640.6,947.0 634.5,948.6 650.6,945.1C666.7,941.5 650.6,945.1 661.2,941.9C671.8,938.7 670.0,939.8 682.4,935.5C694.7,931.3 689.4,933.4 698.3,929.2C707.1,924.9 702.9,927.1 708.9,922.8C714.9,918.6 712.4,920.4 716.3,916.5C720.2,912.6 718.1,914.5 720.5,911.2C723.0,907.8 722.6,908.1 723.7,906.5C724.1,905.9 721.2,905.2 725.0,904.6C728.8,904.0 731.7,904.6 735.0,904.6" fill="none" stroke="#ff0a6e" stroke-width="2.9" stroke-dasharray="10 9" stroke-linejoin="round"/>
<path d="M225.5,1504.6C225.3,1473.3 224.9,1463.2 224.9,1410.8C224.9,1358.3 224.9,1389.6 225.5,1347.2C226.1,1304.8 225.1,1326.6 226.8,1283.6C228.5,1240.6 227.3,1259.9 230.5,1218.3C233.8,1176.7 231.5,1191.8 236.5,1158.7C241.5,1125.6 239.8,1142.1 245.4,1119.0C251.1,1095.8 247.8,1104.7 253.4,1089.1C259.0,1073.6 256.4,1080.9 262.3,1072.3C268.3,1063.6 264.3,1068.9 271.3,1063.3C278.2,1057.7 273.9,1060.7 283.2,1055.4C292.5,1050.1 283.8,1054.7 299.1,1047.4C314.3,1040.1 309.0,1042.5 328.9,1033.5C348.8,1024.6 335.5,1029.2 358.7,1020.6C381.9,1012.0 371.9,1015.6 398.4,1007.7C424.9,999.7 417.6,1002.7 438.2,996.8C458.7,990.8 432.3,998.1 460.0,989.8C487.8,981.5 485.7,980.9 521.4,971.8C557.1,962.8 536.6,968.8 567.1,962.7C597.6,956.6 585.0,959.1 612.8,953.5C640.6,948.0 634.5,949.6 650.6,946.1C666.7,942.5 650.6,946.1 661.2,942.9C671.8,939.7 670.0,940.8 682.4,936.5C694.7,932.3 689.4,934.4 698.3,930.2C707.1,925.9 702.9,928.1 708.9,923.8C714.9,919.6 712.4,921.4 716.3,917.5C720.2,913.6 718.1,915.5 720.5,912.2C723.0,908.8 722.6,909.1 723.7,907.5L726.0,904.6" fill="none" stroke="#ff0a6e" stroke-width="2.9" stroke-dasharray="10 9" stroke-linejoin="round"/>
<path d="M731.0,904.6C730.5,905.2 730.9,903.7 729.5,906.4C728.2,909.2 729.4,908.0 726.9,912.8C724.4,917.6 726.4,915.6 722.1,920.7C717.9,925.9 722.1,922.9 714.2,928.2C706.2,933.5 708.9,931.9 698.3,936.6C687.7,941.4 694.7,938.6 682.4,942.5C670.0,946.3 674.2,944.3 661.2,948.3C648.1,952.2 659.4,950.0 643.3,954.3C627.1,958.6 638.2,955.3 612.8,961.2C587.4,967.0 597.6,964.7 567.1,971.8C536.6,978.9 551.9,974.9 521.4,982.5C490.9,990.1 496.2,989.1 475.7,994.7C455.2,1000.2 472.5,996.3 460.0,999.1C447.5,1002.0 458.7,998.5 438.2,1003.1C417.6,1007.8 424.9,1004.8 398.4,1013.0C371.9,1021.3 385.2,1016.4 358.7,1028.0C332.2,1039.5 338.8,1037.9 319.0,1047.8C299.1,1057.8 312.3,1051.1 299.1,1057.8C285.8,1064.4 289.1,1061.1 279.2,1067.7C269.3,1074.3 275.2,1070.3 269.3,1077.6C263.3,1084.9 267.3,1075.8 261.3,1089.5C255.4,1103.3 257.7,1095.9 251.4,1119.0C245.1,1142.0 247.8,1125.6 242.5,1158.7C237.2,1191.8 238.9,1187.3 235.5,1218.3C232.1,1249.3 234.2,1219.4 232.3,1251.8C230.5,1284.2 231.3,1262.4 230.0,1315.4C228.6,1368.4 229.4,1347.7 228.4,1410.8C227.3,1473.8 227.3,1473.3 226.8,1504.6" fill="none" stroke="#ff0a6e" stroke-width="2.9" stroke-dasharray="10 9" stroke-linejoin="round"/>
<path d="M171.9,1504.6C173.0,1478.6 172.5,1476.5 175.1,1426.7C177.8,1376.9 176.4,1397.5 179.9,1355.1C183.3,1312.7 180.5,1345.1 185.4,1299.5C190.4,1253.9 189.0,1258.6 194.8,1218.3C200.5,1178.0 197.1,1203.7 202.7,1178.6C208.3,1153.4 205.4,1165.3 211.7,1142.8C218.0,1120.3 214.3,1130.9 221.6,1111.0C228.9,1091.1 226.2,1097.8 233.5,1083.2C240.8,1068.6 236.8,1075.9 243.4,1067.3C250.1,1058.7 244.1,1063.0 253.4,1057.4C262.7,1051.7 256.0,1056.4 271.3,1050.4C286.5,1044.4 276.6,1049.1 299.1,1039.5C321.6,1029.9 312.3,1032.2 338.8,1021.6C365.3,1011.0 352.1,1016.3 378.6,1007.7C405.0,999.1 391.1,1003.2 418.3,995.8C445.4,988.3 440.9,990.2 460.0,985.2C479.2,980.2 455.2,986.0 475.7,980.7C496.2,975.4 490.9,976.2 521.4,969.3C551.9,962.5 536.6,966.3 567.1,960.2C597.6,954.1 585.0,956.6 612.8,951.0C640.6,945.5 634.5,947.1 650.6,943.6C666.7,940.0 650.6,943.6 661.2,940.4C671.8,937.2 670.0,938.3 682.4,934.0C694.7,929.8 689.4,931.9 698.3,927.7C707.1,923.4 702.9,925.6 708.9,921.3C714.9,917.1 712.4,918.9 716.3,915.0C720.2,911.1 718.1,913.0 720.5,909.7C723.0,906.3 722.6,906.6 723.7,905.0C724.1,904.9 715.1,904.7 725.0,904.6C734.9,904.5 743.9,904.6 753.4,904.6" fill="none" stroke="#a00707" stroke-width="2.6" stroke-linejoin="round"/>
<path d="M259.8,1504.6C259.8,1473.3 259.6,1463.2 259.8,1410.8C260.1,1358.3 259.8,1389.6 260.5,1347.2C261.1,1304.8 260.5,1326.6 261.7,1283.6C263.0,1240.6 262.1,1253.3 264.3,1218.3C266.5,1183.3 265.0,1205.0 268.3,1178.6C271.6,1152.1 269.6,1164.0 274.2,1138.8C278.9,1113.7 276.6,1123.6 282.2,1103.1C287.8,1082.5 285.5,1091.1 291.1,1077.2C296.8,1063.3 293.8,1069.6 299.1,1061.3C304.4,1053.1 297.1,1058.4 307.0,1052.4C317.0,1046.4 311.7,1051.4 328.9,1043.4C346.1,1035.5 335.5,1039.1 358.7,1028.5C381.9,1018.0 371.9,1021.6 398.4,1011.7C424.9,1001.7 417.6,1005.4 438.2,998.7C458.7,992.1 432.3,1001.2 460.0,991.8C487.8,982.4 485.7,980.6 521.4,970.5C557.1,960.4 536.6,967.5 567.1,961.4C597.6,955.3 585.0,957.8 612.8,952.2C640.6,946.7 634.5,948.3 650.6,944.8C666.7,941.2 650.6,944.8 661.2,941.6C671.8,938.4 670.0,939.5 682.4,935.2C694.7,931.0 689.4,933.1 698.3,928.9C707.1,924.6 702.9,926.8 708.9,922.5C714.9,918.3 712.4,920.1 716.3,916.2C720.2,912.3 718.1,914.2 720.5,910.9C723.0,907.5 722.6,907.8 723.7,906.2L726.0,904.6" fill="none" stroke="#a00707" stroke-width="2.6" stroke-linejoin="round"/>
<path d="M733.5,904.6C733.4,904.9 733.7,903.4 733.2,905.4C732.8,907.5 733.6,906.5 732.2,910.7C730.8,915.0 731.8,912.8 729.0,918.1C726.2,923.4 728.7,921.0 723.7,926.6C718.8,932.3 722.6,929.8 714.2,935.1C705.7,940.4 708.9,938.3 698.3,942.5C687.7,946.8 694.7,944.3 682.4,947.8C670.0,951.3 674.2,950.3 661.2,953.1C648.1,956.0 659.4,953.0 643.3,956.4C627.1,959.7 638.2,957.6 612.8,963.2C587.4,968.8 597.6,966.0 567.1,973.1C536.6,980.2 551.9,975.9 521.4,984.5C490.9,993.2 496.2,992.5 475.7,999.0C455.2,1005.5 472.5,999.6 460.0,1004.1C447.5,1008.7 458.7,1004.8 438.2,1012.7C417.6,1020.5 421.6,1018.6 398.4,1027.6C375.2,1036.5 388.5,1031.2 368.6,1039.5C348.8,1047.8 354.7,1045.8 338.8,1052.4C322.9,1059.0 330.2,1054.0 320.9,1059.3C311.7,1064.6 317.6,1059.7 311.0,1068.3C304.4,1076.9 307.7,1070.9 301.1,1085.2C294.4,1099.4 297.4,1091.8 291.1,1111.0C284.8,1130.2 287.5,1120.3 282.2,1142.8C276.9,1165.3 279.2,1153.4 275.2,1178.6C271.3,1203.7 273.4,1183.3 270.3,1218.3C267.1,1253.3 268.0,1240.6 265.7,1283.6C263.4,1326.6 264.7,1299.5 263.3,1347.2C262.0,1394.9 262.5,1374.2 261.7,1426.7C261.0,1479.1 261.2,1478.6 261.0,1504.6" fill="none" stroke="#a00707" stroke-width="2.6" stroke-linejoin="round"/>
<path d="M729.0,904.6C729.2,904.7 730.2,902.7 729.5,904.9C728.8,907.2 729.4,906.5 726.9,911.3C724.4,916.1 726.4,914.1 722.1,919.2C717.9,924.4 722.1,921.4 714.2,926.7C706.2,932.0 708.9,930.4 698.3,935.1C687.7,939.9 694.7,937.1 682.4,941.0C670.0,944.8 674.2,942.8 661.2,946.8C648.1,950.7 659.4,948.5 643.3,952.8C627.1,957.1 622.9,957.4 612.8,959.7" fill="none" stroke="#a00707" stroke-width="2.6" stroke-linejoin="round"/>
</g>
<g clip-path="url(#cpd)">
<path d="M882.0,794.3C882.1,739.5 881.8,704.2 882.4,629.9C883.1,555.7 882.4,605.6 883.9,571.5C885.3,537.4 884.6,554.4 886.8,527.7C889.0,500.9 887.8,514.0 890.5,491.1C893.1,468.2 890.1,486.5 894.8,459.0C899.6,431.4 897.8,436.6 904.8,408.5C911.7,380.4 908.1,394.6 915.7,374.7C923.3,354.8 920.3,361.5 927.6,348.9C934.9,336.3 930.3,343.3 937.6,337.0C944.8,330.7 938.9,336.0 949.5,330.0C960.1,324.0 952.8,328.0 969.3,319.1C985.9,310.1 979.3,312.5 999.1,303.2C1019.0,293.9 1009.1,297.9 1029.0,291.3C1048.8,284.6 1039.6,287.5 1058.8,283.3C1077.9,279.2 1068.4,282.5 1086.5,278.8C1104.6,275.1 1097.5,276.8 1113.0,272.2C1128.4,267.5 1119.6,271.3 1132.8,264.9C1146.1,258.5 1139.5,261.4 1152.7,253.0C1166.0,244.6 1159.3,246.8 1172.6,239.7C1185.8,232.7 1179.2,236.0 1192.5,231.8C1205.7,227.6 1199.1,229.6 1212.3,227.2C1225.6,224.7 1216.3,226.9 1232.2,224.5C1248.1,222.1 1234.3,224.5 1260.0,219.9C1285.7,215.2 1278.7,216.5 1309.3,210.6C1339.8,204.8 1328.1,206.9 1351.6,202.2C1375.1,197.5 1365.7,199.1 1379.8,196.5C1393.9,194.0 1384.9,195.3 1393.9,194.6C1402.8,193.8 1402.3,194.4 1406.6,194.3" fill="none" stroke="#17148a" stroke-width="2.6" stroke-linejoin="round"/>
<path d="M916.7,794.3C916.7,749.2 916.4,728.5 916.5,659.1C916.6,589.7 916.2,634.8 917.0,586.1C917.9,537.4 917.8,547.1 918.9,513.0C920.1,479.0 919.2,505.4 920.4,483.8C921.6,462.2 920.2,470.0 922.7,448.2C925.1,426.4 924.0,438.3 927.6,418.4C931.3,398.6 928.9,408.5 933.6,388.6C938.2,368.8 936.2,374.1 941.5,358.8C946.8,343.6 943.5,351.2 949.5,342.9C955.4,334.6 949.5,340.9 959.4,334.0C969.3,327.0 962.7,331.0 979.3,322.1C995.8,313.1 989.2,316.1 1009.1,307.2C1029.0,298.2 1021.9,300.5 1038.9,295.2C1055.9,290.0 1044.1,294.9 1060.0,291.4C1075.9,287.9 1068.8,289.0 1086.5,284.8C1104.2,280.6 1095.3,282.6 1113.0,278.8C1130.6,275.1 1124.0,277.3 1139.5,273.5C1154.9,269.8 1146.1,273.1 1159.3,267.5C1172.6,262.0 1166.0,264.9 1179.2,257.0C1192.5,249.0 1185.8,251.7 1199.1,243.7C1212.3,235.8 1205.7,238.4 1218.9,233.1C1232.2,227.8 1225.1,231.1 1238.8,227.8C1252.5,224.5 1236.5,227.8 1260.0,223.2C1283.5,218.6 1278.7,219.9 1309.3,214.0C1339.8,208.2 1328.1,210.4 1351.6,205.6C1375.1,200.8 1362.8,202.8 1379.8,199.6C1396.7,196.5 1389.2,197.8 1402.3,196.0C1415.5,194.2 1413.6,194.9 1419.3,194.3L1479.9,194.3" fill="none" stroke="#17148a" stroke-width="2.6" stroke-linejoin="round"/>
<path d="M1406.6,194.3L1406.0,240.3C1405.3,245.0 1406.4,245.4 1403.8,254.4C1401.1,263.3 1406.1,259.4 1398.1,267.1C1390.1,274.8 1395.3,272.3 1379.8,277.5C1364.3,282.7 1375.1,279.0 1351.6,282.6C1328.1,286.2 1339.8,284.2 1309.3,288.2C1278.7,292.3 1281.3,290.1 1260.0,294.7C1238.7,299.3 1254.7,296.0 1245.4,302.0C1236.2,307.9 1241.0,306.0 1232.2,312.6C1223.4,319.2 1227.8,316.3 1218.9,321.9C1210.1,327.4 1214.5,325.2 1205.7,329.1C1196.9,333.1 1201.3,331.3 1192.5,333.8C1183.6,336.2 1190.2,334.7 1179.2,336.4C1168.2,338.2 1172.6,337.1 1159.3,339.1C1146.1,341.1 1152.7,340.2 1139.5,342.4C1126.2,344.6 1132.8,343.7 1119.6,345.7C1106.4,347.7 1113.0,346.1 1099.7,348.3C1086.5,350.6 1093.1,349.4 1079.9,352.3C1066.6,355.2 1080.3,350.8 1060.0,357.0C1039.7,363.1 1039.3,363.5 1019.0,370.7C998.7,378.0 1011.7,372.7 999.1,378.7C986.6,384.6 992.5,380.7 981.3,388.6C970.0,396.6 974.6,392.6 965.4,402.5C956.1,412.5 960.7,406.5 953.4,418.4C946.2,430.3 949.5,423.7 943.5,438.3C937.6,452.9 939.5,448.2 935.6,462.1C931.6,476.0 934.0,463.1 931.6,480.0C929.2,497.0 931.2,482.6 928.4,513.0C925.7,543.5 926.0,527.7 923.3,571.5C920.6,615.3 921.9,570.3 920.4,644.5C918.9,718.8 919.4,744.4 918.9,794.3" fill="none" stroke="#17148a" stroke-width="2.6" stroke-linejoin="round"/>
<path d="M882.4,794.3C882.6,749.2 882.2,728.5 882.9,659.1C883.5,589.7 882.8,627.5 884.3,586.1C885.9,544.7 885.0,564.2 887.5,535.0C890.1,505.7 888.7,520.4 891.9,498.4C895.1,476.5 893.9,485.8 897.0,469.2C900.2,452.7 896.2,469.0 901.4,448.8C906.6,428.5 906.0,431.2 912.7,408.5C919.5,385.8 915.4,397.2 921.7,380.7C928.0,364.1 925.0,370.1 931.6,358.8C938.2,347.6 934.2,353.2 941.5,346.9C948.8,340.6 942.9,345.2 953.4,339.9C964.0,334.6 954.8,339.3 973.3,331.0C991.9,322.7 987.2,324.0 1009.1,315.1C1030.9,306.2 1021.9,309.2 1038.9,304.2C1055.9,299.1 1044.1,302.5 1060.0,300.0C1075.9,297.5 1068.8,298.7 1086.5,296.7C1104.2,294.7 1097.5,295.6 1113.0,294.0C1128.4,292.5 1119.6,294.5 1132.8,292.1C1146.1,289.6 1139.5,291.8 1152.7,286.8C1166.0,281.7 1161.5,283.9 1172.6,276.8C1183.6,269.8 1175.7,273.1 1185.8,265.6C1196.0,258.1 1190.7,259.6 1203.0,254.3C1215.4,249.0 1209.7,252.1 1222.9,249.7C1236.2,247.2 1230.4,248.3 1242.8,247.0C1255.1,245.7 1237.8,247.9 1260.0,245.7C1282.2,243.4 1274.0,243.5 1309.3,240.3C1344.5,237.0 1332.8,238.9 1365.7,236.0C1398.6,233.2 1384.5,235.1 1408.0,231.8C1431.5,228.5 1419.3,231.3 1436.2,226.2C1453.1,221.0 1446.5,223.3 1458.8,216.3C1471.0,209.2 1465.3,212.3 1472.9,205.0C1480.4,197.7 1478.5,197.9 1481.3,194.3" fill="none" stroke="#1010ff" stroke-width="2.9" stroke-dasharray="10 9" stroke-linejoin="round"/>
<path d="M920.4,794.3C920.3,749.2 919.9,728.5 920.1,659.1C920.4,589.7 920.1,634.8 921.1,586.1C922.2,537.4 921.4,552.0 923.3,513.0C925.3,474.1 924.9,490.8 927.0,469.2C929.1,447.6 926.7,465.2 929.6,448.2C932.5,431.3 930.9,438.3 935.6,418.4C940.2,398.6 938.2,405.8 943.5,388.6C948.8,371.4 946.2,378.0 951.5,366.8C956.8,355.5 952.1,362.1 959.4,354.8C966.7,347.6 960.1,351.5 973.3,344.9C986.6,338.3 980.6,342.9 999.1,335.0C1017.7,327.0 1012.4,328.9 1029.0,321.1C1045.5,313.3 1038.5,316.1 1048.8,311.5C1059.2,306.9 1051.9,310.0 1060.0,307.3C1068.1,304.5 1064.4,305.7 1073.2,303.3C1082.1,300.9 1075.5,301.8 1086.5,300.0C1097.5,298.2 1092.2,299.3 1106.4,298.0C1120.5,296.7 1113.9,297.0 1128.9,296.0C1143.9,295.1 1137.7,296.6 1151.4,295.1C1165.1,293.6 1158.0,295.7 1169.9,291.4C1181.9,287.1 1177.4,288.7 1187.2,282.1C1196.9,275.5 1191.6,278.1 1199.1,271.5C1206.6,264.9 1202.2,267.3 1209.7,262.3C1217.2,257.2 1211.9,260.0 1221.6,256.3C1231.3,252.5 1228.7,253.9 1238.8,251.0C1249.0,248.1 1247.6,248.8 1252.1,247.7" fill="none" stroke="#1010ff" stroke-width="2.9" stroke-dasharray="10 9" stroke-linejoin="round"/>
<path d="M1482.7,195.1L1482.7,214.9C1481.3,221.5 1482.7,223.3 1478.5,234.6C1474.3,245.9 1479.4,240.7 1470.0,248.7C1460.6,256.7 1471.0,253.4 1450.3,258.6C1429.6,263.8 1436.2,261.0 1408.0,264.2C1379.8,267.5 1393.9,265.2 1365.7,268.5C1337.5,271.8 1351.6,270.4 1323.4,274.1C1295.1,277.9 1302.2,276.2 1281.0,279.8C1259.9,283.3 1272.8,280.9 1260.0,284.8C1247.2,288.6 1254.7,285.7 1242.8,291.4C1230.9,297.1 1236.6,294.9 1224.2,302.0C1211.9,309.1 1218.1,306.8 1205.7,312.6C1193.3,318.3 1200.4,315.8 1187.2,319.2C1173.9,322.6 1179.6,321.1 1166.0,322.9C1152.3,324.7 1160.2,323.0 1146.1,324.5C1132.0,326.0 1137.7,325.4 1123.6,327.4C1109.4,329.4 1117.0,328.1 1103.7,330.5C1090.5,332.8 1098.4,331.3 1083.8,334.4C1069.3,337.5 1075.0,335.3 1060.0,339.7C1045.0,344.2 1055.9,341.9 1038.9,347.9C1021.9,353.9 1025.6,352.2 1009.1,357.8C992.5,363.5 1000.5,360.5 989.2,364.8C978.0,369.1 982.6,366.1 975.3,370.7C968.0,375.4 973.3,370.7 967.4,378.7C961.4,386.6 963.4,382.7 957.4,394.6C951.5,406.5 954.8,399.9 949.5,414.5C944.2,429.0 946.2,422.4 941.5,438.3C936.9,454.2 938.5,448.2 935.6,462.1C932.6,476.0 935.7,458.2 932.6,480.0C929.5,501.9 929.6,492.3 926.2,527.7C922.9,563.0 924.3,542.3 922.6,586.1C920.9,629.9 921.8,589.7 921.1,659.1C920.5,728.5 920.8,749.2 920.7,794.3" fill="none" stroke="#1010ff" stroke-width="2.9" stroke-dasharray="10 9" stroke-linejoin="round"/>
<path d="M882.9,794.3C883.2,749.2 882.8,728.5 883.9,659.1C885.0,589.7 883.9,627.5 886.1,586.1C888.3,544.7 887.0,564.2 890.5,535.0C893.9,505.7 892.2,520.4 896.3,498.4C900.4,476.5 898.7,486.3 902.9,469.2C907.0,452.2 904.4,466.2 908.7,447.3C913.0,428.4 910.1,434.7 915.7,412.5C921.3,390.3 919.0,398.6 925.6,380.7C932.3,362.8 928.9,369.1 935.6,358.8C942.2,348.6 937.6,354.2 945.5,349.9C953.4,345.6 948.2,349.5 959.4,345.9C970.7,342.3 962.7,345.6 979.3,339.0C995.8,332.3 989.2,334.0 1009.1,326.0C1029.0,318.1 1021.9,320.7 1038.9,315.1C1055.9,309.5 1046.3,312.8 1060.0,309.3C1073.7,305.8 1066.6,306.8 1079.9,304.6C1093.1,302.4 1084.3,303.6 1099.7,302.6C1115.2,301.7 1108.6,302.8 1126.2,301.7C1143.9,300.6 1137.3,301.7 1152.7,299.3C1168.2,297.0 1161.5,298.7 1172.6,294.7C1183.6,290.7 1177.0,293.8 1185.8,287.4C1194.7,281.0 1191.1,282.6 1199.1,275.5C1207.0,268.4 1200.8,271.3 1209.7,266.2C1218.5,261.1 1213.6,263.0 1225.6,260.3C1237.5,257.5 1234.0,258.9 1245.4,257.9C1256.9,256.9 1238.7,259.8 1260.0,257.2C1281.3,254.6 1274.0,253.4 1309.3,250.1C1344.5,246.8 1332.8,249.2 1365.7,247.3C1398.6,245.4 1384.5,246.4 1408.0,244.5C1431.5,242.6 1419.3,245.4 1436.2,241.7C1453.1,237.9 1446.5,240.3 1458.8,233.2C1471.0,226.2 1465.8,229.5 1472.9,220.5C1479.9,211.6 1476.6,215.2 1479.9,206.4C1483.2,197.7 1481.8,198.3 1482.7,194.3L1499.7,194.3" fill="none" stroke="#a5dadc" stroke-width="2.6" stroke-linejoin="round"/>
<path d="M924.1,794.3C924.2,749.2 923.8,728.5 924.3,659.1C924.9,589.7 924.4,629.9 925.8,586.1C927.2,542.3 926.1,561.7 928.4,527.7C930.8,493.6 929.4,509.2 932.8,483.8C936.2,458.5 934.4,472.2 938.7,451.7C942.9,431.2 940.6,443.4 945.5,422.4C950.4,401.4 948.2,407.8 953.4,388.6C958.7,369.4 956.1,376.0 961.4,364.8C966.7,353.5 961.4,360.8 969.3,354.8C977.3,348.9 972.0,352.2 985.2,346.9C998.5,341.6 991.2,346.2 1009.1,339.0C1027.0,331.7 1021.9,332.5 1038.9,325.0C1055.9,317.6 1048.5,320.9 1060.0,316.6C1071.5,312.2 1064.4,315.0 1073.2,311.9C1082.1,308.8 1077.7,309.9 1086.5,307.3C1095.3,304.6 1086.5,305.6 1099.7,304.0C1113.0,302.4 1108.6,303.8 1126.2,302.5C1143.9,301.3 1136.4,302.5 1152.7,300.3C1169.1,298.1 1162.9,299.9 1175.2,295.9C1187.6,291.9 1180.5,294.6 1189.8,288.3C1199.1,282.1 1195.1,283.5 1203.0,277.1C1211.0,270.7 1205.7,273.8 1213.6,269.1C1221.6,264.5 1216.3,266.3 1226.9,263.2C1237.5,260.1 1234.4,261.3 1245.4,259.9C1256.5,258.4 1238.7,261.5 1260.0,258.8C1281.3,256.1 1274.0,255.1 1309.3,251.8C1344.5,248.6 1332.8,250.9 1365.7,249.0C1398.6,247.1 1384.5,248.1 1408.0,246.2C1431.5,244.3 1419.3,246.9 1436.2,243.4C1453.1,239.8 1445.6,242.3 1458.8,235.5C1471.9,228.6 1467.7,232.5 1475.7,222.8C1483.7,213.1 1479.4,215.6 1482.7,206.4C1486.0,197.2 1484.6,198.9 1485.6,195.1" fill="none" stroke="#a5dadc" stroke-width="2.6" stroke-linejoin="round"/>
<path d="M1488.4,195.1C1487.9,201.7 1489.3,202.7 1487.0,214.9C1484.6,227.1 1487.0,221.9 1481.3,231.8C1475.7,241.7 1480.4,237.9 1470.0,244.5C1459.7,251.1 1471.0,248.1 1450.3,251.6C1429.6,255.0 1436.2,253.1 1408.0,254.9C1379.8,256.8 1393.9,254.6 1365.7,257.2C1337.5,259.8 1351.6,259.1 1323.4,262.8C1295.1,266.6 1302.2,265.4 1281.0,268.5C1259.9,271.6 1274.1,269.6 1260.0,272.2C1245.9,274.7 1252.5,272.0 1238.8,276.2C1225.1,280.4 1230.0,278.4 1218.9,284.8C1207.9,291.2 1214.5,289.0 1205.7,295.4C1196.9,301.8 1203.5,299.1 1192.5,304.0C1181.4,308.8 1188.0,306.8 1172.6,309.9C1157.1,313.0 1161.5,311.0 1146.1,313.2C1130.6,315.5 1141.7,313.5 1126.2,316.6C1110.8,319.6 1115.2,319.0 1099.7,322.5C1084.3,326.0 1093.1,323.8 1079.9,327.2C1066.6,330.5 1070.3,329.2 1060.0,332.5C1049.7,335.7 1062.5,331.5 1048.8,337.0C1035.2,342.4 1035.6,342.6 1019.0,348.9C1002.5,355.2 1011.7,351.5 999.1,355.8C986.6,360.1 990.5,357.5 981.3,361.8C972.0,366.1 977.3,361.8 971.3,368.8C965.4,375.7 968.7,371.4 963.4,382.7C958.1,393.9 960.7,387.3 955.4,402.5C950.1,417.8 952.1,409.8 947.5,428.4C942.9,446.9 944.3,440.9 941.5,458.2C938.7,475.4 942.5,456.9 939.1,480.0C935.8,503.2 935.2,492.3 931.4,527.7C927.5,563.0 929.7,542.3 927.7,586.1C925.8,629.9 926.5,589.7 925.5,659.1C924.5,728.5 924.9,749.2 924.6,794.3" fill="none" stroke="#a5dadc" stroke-width="2.6" stroke-linejoin="round"/>
</g>
<g clip-path="url(#cpe)">
<path d="M889.9,1504.6C890.4,1478.6 890.1,1473.8 891.5,1426.7C892.8,1379.5 891.7,1405.5 893.8,1363.1C896.0,1320.7 894.9,1336.6 897.8,1299.5C900.7,1262.4 898.6,1285.5 902.6,1251.8C906.6,1218.1 903.8,1233.9 909.7,1198.4C915.6,1163.0 912.4,1177.2 920.3,1145.4C928.3,1113.6 923.9,1127.8 933.6,1103.0C943.3,1078.3 941.1,1084.9 949.5,1071.3C957.9,1057.6 949.9,1066.8 958.7,1062.0C967.6,1057.1 961.4,1062.4 976.0,1056.7C990.5,1050.9 980.4,1054.0 1002.5,1044.8C1024.5,1035.5 1015.7,1038.1 1042.2,1028.9C1068.7,1019.6 1055.4,1023.1 1081.9,1017.0C1108.4,1010.8 1099.0,1013.0 1121.7,1010.3C1144.3,1007.7 1130.4,1012.7 1150.0,1008.9C1169.6,1005.1 1160.2,1006.1 1180.5,999.0C1200.8,991.9 1193.2,994.4 1210.9,987.6C1228.7,980.7 1218.5,983.4 1233.8,978.4C1249.0,973.5 1238.9,976.3 1256.6,972.8C1274.4,969.4 1266.8,971.2 1287.1,968.1C1307.4,965.0 1297.2,966.6 1317.6,963.5C1337.9,960.5 1320.5,961.5 1348.0,958.9C1375.5,956.4 1375.3,958.2 1400.0,955.9C1424.7,953.5 1407.3,955.3 1422.0,952.0C1436.6,948.7 1431.1,950.2 1444.0,946.0C1456.8,941.7 1451.3,944.1 1460.5,939.4C1469.6,934.6 1464.9,937.2 1471.5,931.7C1478.1,926.2 1474.4,931.1 1480.3,922.9C1486.1,914.6 1486.1,912.2 1489.1,906.9L1495.0,905.8" fill="none" stroke="#ffa8a8" stroke-width="2.6" stroke-linejoin="round"/>
<path d="M948.7,1504.6C948.7,1473.3 948.3,1468.5 948.7,1410.8C949.1,1353.0 948.9,1379.0 950.0,1331.3C951.0,1283.6 950.4,1304.8 951.9,1267.7C953.3,1230.6 950.6,1256.3 954.3,1220.0C957.9,1183.7 956.8,1193.2 962.7,1158.7C968.6,1124.1 964.9,1141.9 972.0,1116.3C979.1,1090.7 976.4,1098.6 983.9,1081.9C991.4,1065.1 986.6,1073.5 994.5,1066.0C1002.5,1058.5 991.9,1065.5 1007.7,1059.3C1023.6,1053.2 1017.5,1056.2 1042.2,1047.4C1066.9,1038.6 1055.4,1042.1 1081.9,1032.8C1108.4,1023.6 1099.0,1026.3 1121.7,1019.6C1144.3,1012.9 1132.9,1017.6 1150.0,1012.7C1167.1,1007.9 1157.6,1010.4 1172.8,1005.1C1188.1,999.8 1181.5,1002.1 1195.7,996.7C1209.9,991.4 1202.8,994.2 1215.5,989.1C1228.2,984.0 1220.6,986.1 1233.8,981.5C1247.0,976.9 1239.9,978.9 1255.1,975.4C1270.3,971.9 1258.7,974.9 1279.5,971.1C1300.3,967.3 1294.7,967.9 1317.6,964.0C1340.4,960.1 1320.5,961.9 1348.0,959.4C1375.5,956.9 1375.3,958.7 1400.0,956.4C1424.7,954.1 1407.3,955.8 1422.0,952.6C1436.6,949.3 1431.0,950.8 1444.0,946.6C1457.0,942.4 1451.5,944.9 1461.0,940.0C1470.5,935.2 1465.8,937.7 1472.6,932.1C1479.3,926.5 1475.4,931.7 1481.4,923.3C1487.3,914.9 1487.4,912.4 1490.4,906.9" fill="none" stroke="#ffa8a8" stroke-width="2.6" stroke-linejoin="round"/>
<path d="M1501.1,907.5C1500.6,911.1 1501.0,911.1 1499.5,918.5C1498.0,925.8 1499.5,922.1 1496.7,929.5C1494.0,936.8 1495.6,933.9 1491.2,940.5C1486.9,947.1 1490.1,944.1 1483.6,949.3C1477.0,954.4 1481.0,952.0 1471.5,955.9C1461.9,959.7 1467.8,958.1 1455.0,960.8C1442.1,963.6 1447.6,962.1 1433.0,964.1C1418.3,966.1 1428.7,966.1 1411.0,966.9C1393.3,967.6 1398.5,965.9 1380.0,966.3C1361.6,966.6 1368.8,966.0 1355.6,967.8C1342.4,969.6 1350.6,968.8 1340.4,971.6C1330.2,974.4 1337.9,973.6 1325.2,976.2C1312.5,978.7 1320.1,977.2 1302.3,979.2C1284.6,981.2 1289.6,980.2 1271.9,982.3C1254.1,984.3 1261.7,981.7 1249.0,985.3C1236.3,988.9 1243.9,986.3 1233.8,992.9C1223.6,999.5 1228.7,998.8 1218.5,1005.1C1208.4,1011.4 1216.0,1007.9 1203.3,1012.0C1190.6,1016.0 1198.2,1013.7 1180.5,1017.3C1162.7,1020.8 1169.6,1017.0 1150.0,1022.6C1130.4,1028.2 1144.3,1025.9 1121.7,1034.2C1099.0,1042.4 1108.4,1038.1 1081.9,1047.4C1055.4,1056.7 1066.0,1053.6 1042.2,1062.0C1018.3,1070.4 1024.5,1066.8 1010.4,1072.6C996.3,1078.3 1006.9,1071.7 999.8,1079.2C992.7,1086.7 996.7,1079.2 989.2,1095.1C981.7,1111.0 984.3,1103.0 977.3,1126.9C970.2,1150.7 973.3,1138.4 968.0,1166.6C962.7,1194.9 964.9,1180.6 961.4,1211.7C957.9,1242.7 960.3,1220.0 957.4,1259.9C954.5,1299.7 954.9,1281.0 952.7,1331.3C950.5,1381.6 951.7,1353.0 950.8,1410.8C949.9,1468.5 950.2,1473.3 950.0,1504.6" fill="none" stroke="#ffa8a8" stroke-width="2.6" stroke-linejoin="round"/>
<path d="M891.5,1504.6C892.2,1478.6 891.8,1473.8 893.5,1426.7C895.3,1379.5 894.2,1405.5 896.7,1363.1C899.2,1320.7 898.0,1336.6 901.0,1299.5C904.0,1262.4 901.1,1285.5 905.8,1251.8C910.4,1218.1 908.0,1233.9 915.0,1198.4C922.1,1163.0 918.6,1177.2 927.0,1145.4C935.3,1113.6 930.9,1126.9 940.2,1103.0C949.5,1079.2 946.4,1086.7 954.8,1073.9C963.2,1061.1 956.5,1069.5 965.4,1064.6C974.2,1059.8 967.1,1064.2 981.3,1059.3C995.4,1054.5 987.4,1057.6 1007.7,1050.1C1028.1,1042.6 1017.5,1045.7 1042.2,1036.8C1066.9,1028.0 1055.4,1031.5 1081.9,1023.6C1108.4,1015.6 1099.0,1017.1 1121.7,1013.0C1144.3,1008.9 1132.9,1014.3 1150.0,1011.2C1167.1,1008.1 1157.6,1008.9 1172.8,1003.6C1188.1,998.2 1181.5,1000.5 1195.7,995.2C1209.9,989.9 1202.8,992.7 1215.5,987.6C1228.2,982.5 1220.6,984.4 1233.8,980.0C1247.0,975.6 1239.9,977.6 1255.1,974.3C1270.3,971.0 1258.7,973.6 1279.5,970.1C1300.3,966.5 1294.7,967.3 1317.6,963.7C1340.4,960.0 1320.5,962.5 1348.0,959.1C1375.5,955.7 1375.3,956.4 1400.0,953.4C1424.7,950.5 1408.1,954.3 1422.0,950.4C1435.9,946.4 1430.0,946.7 1441.8,941.6C1453.5,936.4 1447.3,940.5 1457.2,935.0C1467.1,929.5 1464.1,930.9 1471.5,925.1C1478.8,919.2 1474.4,923.7 1479.2,917.4C1483.9,911.1 1483.6,909.9 1485.8,906.2L1495.6,906.2" fill="none" stroke="#ff0a6e" stroke-width="2.9" stroke-dasharray="10 9" stroke-linejoin="round"/>
<path d="M970.2,1504.6C970.1,1473.3 969.6,1468.5 969.8,1410.8C970.1,1353.0 969.9,1379.0 971.0,1331.3C972.0,1283.6 971.7,1304.8 973.0,1267.7C974.3,1230.6 971.3,1256.3 974.9,1220.0C978.6,1183.7 977.8,1193.2 983.9,1158.7C990.0,1124.1 986.1,1141.0 993.2,1116.3C1000.2,1091.6 996.7,1101.3 1005.1,1084.5C1013.5,1067.7 1008.6,1074.8 1018.3,1066.0C1028.1,1057.1 1017.5,1066.0 1034.2,1058.0C1051.0,1050.1 1044.0,1051.8 1068.7,1042.1C1093.4,1032.4 1081.3,1038.3 1108.4,1028.9C1135.5,1019.5 1128.5,1021.6 1150.0,1013.9C1171.5,1006.3 1157.6,1011.4 1172.8,1006.0C1188.1,1000.6 1181.5,1003.0 1195.7,997.6C1209.9,992.3 1202.8,995.0 1215.5,989.9C1228.2,984.7 1220.6,986.8 1233.8,982.3C1247.0,977.7 1239.9,979.7 1255.1,976.2C1270.3,972.6 1258.7,975.5 1279.5,971.6C1300.3,967.7 1294.7,968.4 1317.6,964.6C1340.4,960.7 1320.5,963.5 1348.0,960.0C1375.5,956.6 1375.3,957.2 1400.0,954.2C1424.7,951.2 1407.9,955.0 1422.0,951.1C1436.1,947.3 1430.2,947.7 1442.3,942.7C1454.4,937.6 1448.0,941.5 1458.3,936.1C1468.5,930.6 1464.7,932.3 1473.1,926.4C1481.5,920.5 1477.1,925.1 1483.6,918.5C1490.0,911.8 1489.4,910.4 1492.3,906.4" fill="none" stroke="#ff0a6e" stroke-width="2.9" stroke-dasharray="10 9" stroke-linejoin="round"/>
<path d="M1500.9,906.4C1500.8,908.6 1501.3,907.1 1500.6,913.0C1499.9,918.8 1500.6,916.6 1498.9,924.0C1497.3,931.3 1499.3,927.6 1495.6,935.0C1492.0,942.3 1493.4,939.7 1488.0,946.0C1482.5,952.2 1486.5,949.4 1479.2,953.7C1471.8,957.9 1475.9,955.7 1466.0,958.6C1456.1,961.5 1462.3,960.3 1449.5,962.5C1436.6,964.7 1442.1,963.6 1427.5,965.2C1412.8,966.9 1427.9,964.4 1405.5,967.4C1383.1,970.4 1381.9,971.3 1360.2,974.2C1338.5,977.1 1354.6,974.7 1340.4,976.2C1326.2,977.6 1332.8,976.9 1317.6,978.4C1302.3,980.0 1308.9,979.1 1294.7,980.7C1280.5,982.4 1288.1,980.7 1274.9,983.5C1261.7,986.3 1267.8,984.2 1255.1,989.1C1242.4,994.0 1249.0,991.9 1236.8,998.2C1224.6,1004.6 1231.7,1002.1 1218.5,1008.1C1205.3,1014.2 1210.9,1011.7 1197.2,1016.5C1183.5,1021.4 1191.1,1018.3 1177.4,1022.6C1163.7,1026.9 1174.7,1023.4 1156.1,1029.5C1137.5,1035.5 1146.4,1031.3 1121.7,1040.8C1096.9,1050.3 1108.4,1047.9 1081.9,1058.0C1055.4,1068.2 1060.7,1063.8 1042.2,1071.3C1023.6,1078.8 1035.6,1071.7 1026.3,1080.5C1017.0,1089.4 1022.3,1083.2 1014.4,1097.7C1006.4,1112.3 1010.0,1103.9 1002.5,1124.2C994.9,1144.5 998.0,1129.5 991.9,1158.7C985.7,1187.8 987.9,1177.9 983.9,1211.7C979.9,1245.4 983.2,1220.0 979.9,1259.9C976.7,1299.7 976.6,1281.0 974.1,1331.3C971.7,1381.6 973.3,1353.0 972.5,1410.8C971.7,1468.5 972.0,1473.3 971.7,1504.6" fill="none" stroke="#ff0a6e" stroke-width="2.9" stroke-dasharray="10 9" stroke-linejoin="round"/>
<path d="M895.4,1504.6C896.2,1478.6 895.7,1471.2 897.8,1426.7C899.9,1382.2 898.9,1405.5 901.8,1371.0C904.7,1336.6 903.4,1355.1 906.6,1323.3C909.7,1291.5 908.2,1303.7 911.3,1275.6C914.5,1247.6 913.1,1264.8 916.1,1239.1C919.1,1213.3 914.9,1227.9 920.3,1198.4C925.7,1169.0 923.4,1179.9 932.3,1150.7C941.1,1121.6 936.7,1134.8 946.8,1111.0C957.0,1087.2 953.0,1094.7 962.7,1079.2C972.4,1063.8 968.0,1071.3 976.0,1064.6C983.9,1058.0 972.4,1064.2 986.6,1059.3C1000.7,1054.5 995.4,1058.5 1018.3,1050.1C1041.3,1041.7 1029.8,1044.3 1055.4,1034.2C1081.0,1024.0 1068.7,1028.0 1095.2,1019.6C1121.7,1011.2 1116.6,1013.8 1134.9,1009.0C1153.2,1004.2 1134.8,1010.0 1150.0,1005.1C1165.2,1000.2 1160.2,1002.3 1180.5,994.4C1200.8,986.6 1193.2,988.1 1210.9,981.5C1228.7,974.9 1218.5,978.2 1233.8,974.6C1249.0,971.1 1238.9,973.6 1256.6,970.8C1274.4,968.0 1266.8,969.3 1287.1,966.3C1307.4,963.2 1297.2,964.7 1317.6,961.7C1337.9,958.6 1320.5,960.2 1348.0,957.1C1375.5,954.1 1375.3,955.7 1400.0,952.6C1424.7,949.4 1407.3,951.3 1422.0,947.6C1436.6,943.9 1429.3,946.1 1444.0,941.6C1458.6,937.0 1453.1,939.4 1466.0,933.9C1478.8,928.4 1473.3,930.9 1482.5,925.1C1491.6,919.2 1486.7,922.7 1493.4,916.3C1500.2,909.9 1499.7,909.3 1502.8,905.8L1562.0,905.8" fill="none" stroke="#a00707" stroke-width="2.6" stroke-linejoin="round"/>
<path d="M1020.2,1504.6C1020.2,1473.3 1020.0,1468.5 1020.2,1410.8C1020.5,1353.0 1020.2,1379.0 1021.0,1331.3C1021.8,1283.6 1021.3,1304.8 1022.6,1267.7C1023.9,1230.6 1020.7,1256.3 1025.0,1220.0C1029.3,1183.7 1028.5,1193.2 1035.6,1158.7C1042.6,1124.1 1038.7,1141.9 1046.2,1116.3C1053.7,1090.7 1050.6,1100.4 1058.1,1081.9C1065.6,1063.3 1061.6,1069.9 1068.7,1060.7C1075.7,1051.4 1066.0,1059.3 1079.3,1054.0C1092.5,1048.7 1089.9,1051.8 1108.4,1044.8C1127.0,1037.7 1121.0,1040.0 1134.9,1032.8C1148.8,1025.7 1134.8,1031.1 1150.0,1023.4C1165.2,1015.7 1160.2,1018.3 1180.5,1009.7C1200.8,1001.0 1193.2,1005.1 1210.9,997.5C1228.7,989.9 1218.5,993.9 1233.8,986.8C1249.0,979.7 1241.4,981.5 1256.6,976.2C1271.9,970.8 1264.2,973.9 1279.5,970.8C1294.7,967.8 1284.6,969.8 1302.3,967.0C1320.1,964.2 1312.5,965.2 1332.8,962.5C1353.1,959.7 1340.8,961.6 1363.3,958.6C1385.7,955.6 1380.4,956.8 1400.0,953.4C1419.6,950.1 1407.3,952.2 1422.0,948.5C1436.6,944.8 1429.3,947.0 1444.0,942.4C1458.6,937.9 1453.1,940.2 1466.0,934.7C1478.9,929.3 1473.3,931.8 1482.7,926.0C1492.0,920.1 1487.0,923.8 1494.0,917.2C1501.0,910.5 1500.4,909.8 1503.6,906.1" fill="none" stroke="#a00707" stroke-width="2.6" stroke-linejoin="round"/>
<path d="M1511.0,906.1L1510.5,916.3C1509.8,919.9 1510.7,919.9 1508.3,927.3C1505.9,934.6 1507.6,931.7 1503.3,938.3C1499.1,944.9 1501.5,941.9 1495.6,947.1C1489.8,952.2 1493.8,949.6 1485.8,953.7C1477.7,957.7 1483.6,955.9 1471.5,959.2C1459.4,962.5 1464.1,961.4 1449.5,963.6C1434.8,965.8 1440.3,964.3 1427.5,965.8C1414.7,967.2 1426.8,965.5 1411.0,968.0C1395.2,970.4 1395.9,970.9 1380.0,973.1C1364.1,975.3 1379.0,973.1 1363.3,974.6C1347.5,976.2 1353.1,975.4 1332.8,977.7C1312.5,980.0 1320.1,978.4 1302.3,981.5C1284.6,984.5 1294.7,982.3 1279.5,986.8C1264.2,991.4 1271.9,988.6 1256.6,995.2C1241.4,1001.8 1249.0,998.8 1233.8,1006.6C1218.5,1014.5 1228.7,1010.7 1210.9,1018.8C1193.2,1026.9 1200.8,1023.4 1180.5,1031.0C1160.2,1038.6 1172.3,1033.1 1150.0,1041.7C1127.7,1050.2 1134.6,1048.6 1113.7,1056.7C1092.8,1064.8 1100.0,1060.2 1087.2,1066.0C1074.4,1071.7 1083.2,1064.2 1075.3,1073.9C1067.4,1083.6 1071.3,1077.4 1063.4,1095.1C1055.4,1112.8 1059.0,1103.0 1051.5,1126.9C1044.0,1150.7 1047.0,1138.4 1040.9,1166.6C1034.7,1194.9 1036.9,1180.6 1032.9,1211.7C1028.9,1242.7 1031.0,1235.9 1028.9,1259.9C1026.8,1283.8 1028.4,1254.5 1026.6,1283.6C1024.8,1312.7 1025.0,1299.5 1023.4,1347.2C1021.8,1394.9 1022.5,1374.2 1021.8,1426.7C1021.1,1479.1 1021.5,1478.6 1021.4,1504.6" fill="none" stroke="#a00707" stroke-width="2.6" stroke-linejoin="round"/>
</g>
<text transform="translate(63.8,463.9) rotate(-90)" font-size="54.7" font-weight="bold" text-anchor="middle">Voltage (V)</text>
<text transform="translate(63.8,1170.9) rotate(-90)" font-size="54.7" font-weight="bold" text-anchor="middle">Voltage (V)</text>
<text x="503.9" y="1625.5" font-size="54.5" font-weight="bold" text-anchor="middle" >Capacity (mAh)</text>
<text x="1224.3" y="1626.0" font-size="54.5" font-weight="bold" text-anchor="middle" >Capacity (mAh)</text>
<line x1="559.7" y1="557.5" x2="668.2" y2="557.5" stroke="#17148a" stroke-width="3.0" stroke-linecap="butt"/>
<text x="676.8" y="572.5" font-size="47">-10<tspan font-size="27" dy="-15">o</tspan><tspan dy="15">C</tspan></text>
<line x1="559.7" y1="614.9" x2="668.2" y2="614.9" stroke="#1010ff" stroke-width="3.0" stroke-dasharray="10 10.8"/>
<text x="676.8" y="629.8" font-size="47">0<tspan font-size="27" dy="-15">o</tspan><tspan dy="15">C</tspan></text>
<line x1="559.7" y1="672.7" x2="668.2" y2="672.7" stroke="#a5dadc" stroke-width="3.0" stroke-linecap="butt"/>
<text x="676.8" y="687.5" font-size="47">25<tspan font-size="27" dy="-15">o</tspan><tspan dy="15">C</tspan></text>
<line x1="1273.5" y1="553.9" x2="1382.2" y2="553.9" stroke="#17148a" stroke-width="3.0" stroke-linecap="butt"/>
<text x="1391.0" y="568.9" font-size="47">-10<tspan font-size="27" dy="-15">o</tspan><tspan dy="15">C</tspan></text>
<line x1="1273.5" y1="611.7" x2="1382.2" y2="611.7" stroke="#1010ff" stroke-width="3.0" stroke-dasharray="10 10.8"/>
<text x="1391.0" y="626.2" font-size="47">0<tspan font-size="27" dy="-15">o</tspan><tspan dy="15">C</tspan></text>
<line x1="1273.5" y1="668.9" x2="1382.2" y2="668.9" stroke="#a5dadc" stroke-width="3.0" stroke-linecap="butt"/>
<text x="1391.0" y="683.8" font-size="47">25<tspan font-size="27" dy="-15">o</tspan><tspan dy="15">C</tspan></text>
<line x1="587.6" y1="1292.4" x2="695.8" y2="1292.4" stroke="#ffa8a8" stroke-width="3.0" stroke-linecap="butt"/>
<text x="705.0" y="1307.3" font-size="47">40<tspan font-size="27" dy="-15">o</tspan><tspan dy="15">C</tspan></text>
<line x1="587.6" y1="1349.8" x2="695.8" y2="1349.8" stroke="#ff0a6e" stroke-width="3.0" stroke-dasharray="10 10.8"/>
<text x="705.0" y="1364.9" font-size="47">55<tspan font-size="27" dy="-15">o</tspan><tspan dy="15">C</tspan></text>
<line x1="587.6" y1="1407.5" x2="695.8" y2="1407.5" stroke="#a00707" stroke-width="3.0" stroke-linecap="butt"/>
<text x="705.0" y="1422.4" font-size="47">70<tspan font-size="27" dy="-15">o</tspan><tspan dy="15">C</tspan></text>
<line x1="1307.9" y1="1293.9" x2="1416.7" y2="1293.9" stroke="#ffa8a8" stroke-width="3.0" stroke-linecap="butt"/>
<text x="1425.0" y="1308.4" font-size="47">40<tspan font-size="27" dy="-15">o</tspan><tspan dy="15">C</tspan></text>
<line x1="1307.9" y1="1351.1" x2="1416.7" y2="1351.1" stroke="#ff0a6e" stroke-width="3.0" stroke-dasharray="10 10.8"/>
<text x="1425.0" y="1365.9" font-size="47">55<tspan font-size="27" dy="-15">o</tspan><tspan dy="15">C</tspan></text>
<line x1="1307.9" y1="1408.5" x2="1416.7" y2="1408.5" stroke="#a00707" stroke-width="3.0" stroke-linecap="butt"/>
<text x="1425.0" y="1422.8" font-size="47">70<tspan font-size="27" dy="-15">o</tspan><tspan dy="15">C</tspan></text>
<rect x="236.9" y="1936.1" width="72.2" height="452.5" fill="#9c9cff" stroke="#000" stroke-width="2.7"/>
<rect x="333.0" y="1916.8" width="72.2" height="471.8" fill="#9c9cff" stroke="#000" stroke-width="2.7"/>
<rect x="428.5" y="1937.1" width="72.2" height="451.5" fill="#9c9cff" stroke="#000" stroke-width="2.7"/>
<rect x="524.6" y="1984.8" width="72.2" height="403.8" fill="#9c9cff" stroke="#000" stroke-width="2.7"/>
<rect x="620.4" y="2078.6" width="72.2" height="310.0" fill="#9c9cff" stroke="#000" stroke-width="2.7"/>
<rect x="716.3" y="2260.0" width="72.2" height="128.6" fill="#9c9cff" stroke="#000" stroke-width="2.7"/>
<rect x="177.1" y="1716.0" width="671.3" height="672.6" fill="none" stroke="#000" stroke-width="2.6"/>
<line x1="273.0" y1="1935.3" x2="273.0" y2="1936.9" stroke="#000" stroke-width="1.3" stroke-opacity="0.6"/>
<line x1="262.0" y1="1935.3" x2="284.0" y2="1935.3" stroke="#000" stroke-width="1.3" stroke-opacity="0.6"/>
<line x1="262.0" y1="1936.9" x2="284.0" y2="1936.9" stroke="#000" stroke-width="1.3" stroke-opacity="0.6"/>
<circle cx="273.0" cy="1936.1" r="5.9" fill="#000"/>
<line x1="369.1" y1="1916.0" x2="369.1" y2="1917.6" stroke="#000" stroke-width="1.3" stroke-opacity="0.6"/>
<line x1="358.1" y1="1916.0" x2="380.1" y2="1916.0" stroke="#000" stroke-width="1.3" stroke-opacity="0.6"/>
<line x1="358.1" y1="1917.6" x2="380.1" y2="1917.6" stroke="#000" stroke-width="1.3" stroke-opacity="0.6"/>
<circle cx="369.1" cy="1916.8" r="5.9" fill="#000"/>
<line x1="464.6" y1="1936.3" x2="464.6" y2="1937.9" stroke="#000" stroke-width="1.3" stroke-opacity="0.6"/>
<line x1="453.6" y1="1936.3" x2="475.6" y2="1936.3" stroke="#000" stroke-width="1.3" stroke-opacity="0.6"/>
<line x1="453.6" y1="1937.9" x2="475.6" y2="1937.9" stroke="#000" stroke-width="1.3" stroke-opacity="0.6"/>
<circle cx="464.6" cy="1937.1" r="5.9" fill="#000"/>
<line x1="560.8" y1="1980.5" x2="560.8" y2="1988.8" stroke="#000" stroke-width="1.3" stroke-opacity="0.6"/>
<line x1="549.8" y1="1980.5" x2="571.8" y2="1980.5" stroke="#000" stroke-width="1.3" stroke-opacity="0.6"/>
<line x1="549.8" y1="1988.8" x2="571.8" y2="1988.8" stroke="#000" stroke-width="1.3" stroke-opacity="0.6"/>
<circle cx="560.8" cy="1984.8" r="5.9" fill="#000"/>
<line x1="656.5" y1="2049.0" x2="656.5" y2="2107.0" stroke="#000" stroke-width="1.3" stroke-opacity="0.6"/>
<line x1="645.1" y1="2049.0" x2="667.9" y2="2049.0" stroke="#000" stroke-width="1.3" stroke-opacity="0.6"/>
<line x1="645.1" y1="2107.0" x2="667.9" y2="2107.0" stroke="#000" stroke-width="1.3" stroke-opacity="0.6"/>
<circle cx="656.5" cy="2078.6" r="5.9" fill="#000"/>
<line x1="752.4" y1="2259.2" x2="752.4" y2="2260.8" stroke="#000" stroke-width="1.3" stroke-opacity="0.6"/>
<line x1="742.4" y1="2259.2" x2="762.4" y2="2259.2" stroke="#000" stroke-width="1.3" stroke-opacity="0.6"/>
<line x1="742.4" y1="2260.8" x2="762.4" y2="2260.8" stroke="#000" stroke-width="1.3" stroke-opacity="0.6"/>
<circle cx="752.4" cy="2260.0" r="5.9" fill="#000"/>
<line x1="177.7" y1="1783.3" x2="188.3" y2="1783.3" stroke="#000" stroke-width="2.6" stroke-linecap="round"/>
<line x1="847.8" y1="1783.3" x2="837.2" y2="1783.3" stroke="#000" stroke-width="2.6" stroke-linecap="round"/>
<line x1="177.7" y1="1850.5" x2="200.1" y2="1850.5" stroke="#000" stroke-width="2.6" stroke-linecap="round"/>
<line x1="847.8" y1="1850.5" x2="825.4" y2="1850.5" stroke="#000" stroke-width="2.6" stroke-linecap="round"/>
<line x1="177.7" y1="1917.8" x2="188.3" y2="1917.8" stroke="#000" stroke-width="2.6" stroke-linecap="round"/>
<line x1="847.8" y1="1917.8" x2="837.2" y2="1917.8" stroke="#000" stroke-width="2.6" stroke-linecap="round"/>
<line x1="177.7" y1="1985.0" x2="200.1" y2="1985.0" stroke="#000" stroke-width="2.6" stroke-linecap="round"/>
<line x1="847.8" y1="1985.0" x2="825.4" y2="1985.0" stroke="#000" stroke-width="2.6" stroke-linecap="round"/>
<line x1="177.7" y1="2052.3" x2="188.3" y2="2052.3" stroke="#000" stroke-width="2.6" stroke-linecap="round"/>
<line x1="847.8" y1="2052.3" x2="837.2" y2="2052.3" stroke="#000" stroke-width="2.6" stroke-linecap="round"/>
<line x1="177.7" y1="2119.6" x2="200.1" y2="2119.6" stroke="#000" stroke-width="2.6" stroke-linecap="round"/>
<line x1="847.8" y1="2119.6" x2="825.4" y2="2119.6" stroke="#000" stroke-width="2.6" stroke-linecap="round"/>
<line x1="177.7" y1="2186.8" x2="188.3" y2="2186.8" stroke="#000" stroke-width="2.6" stroke-linecap="round"/>
<line x1="847.8" y1="2186.8" x2="837.2" y2="2186.8" stroke="#000" stroke-width="2.6" stroke-linecap="round"/>
<line x1="177.7" y1="2254.1" x2="200.1" y2="2254.1" stroke="#000" stroke-width="2.6" stroke-linecap="round"/>
<line x1="847.8" y1="2254.1" x2="825.4" y2="2254.1" stroke="#000" stroke-width="2.6" stroke-linecap="round"/>
<line x1="177.7" y1="2321.3" x2="188.3" y2="2321.3" stroke="#000" stroke-width="2.6" stroke-linecap="round"/>
<line x1="847.8" y1="2321.3" x2="837.2" y2="2321.3" stroke="#000" stroke-width="2.6" stroke-linecap="round"/>
<text transform="translate(161.7,1734.6) scale(0.968,1)" font-size="56" font-weight="bold" text-anchor="end" >1</text>
<text transform="translate(164.7,1869.1) scale(0.968,1)" font-size="56" font-weight="bold" text-anchor="end" >0.96</text>
<text transform="translate(164.7,2003.6) scale(0.968,1)" font-size="56" font-weight="bold" text-anchor="end" >0.92</text>
<text transform="translate(164.7,2138.2) scale(0.968,1)" font-size="56" font-weight="bold" text-anchor="end" >0.88</text>
<text transform="translate(164.7,2272.7) scale(0.968,1)" font-size="56" font-weight="bold" text-anchor="end" >0.84</text>
<text transform="translate(164.7,2407.2) scale(0.968,1)" font-size="56" font-weight="bold" text-anchor="end" >0.8</text>
<text transform="translate(272.0,2455.6) scale(0.97,1)" font-size="55.5" font-weight="bold" text-anchor="middle" >-10</text>
<text transform="translate(367.7,2455.6) scale(0.97,1)" font-size="55.5" font-weight="bold" text-anchor="middle" >0</text>
<text transform="translate(462.7,2455.6) scale(0.97,1)" font-size="55.5" font-weight="bold" text-anchor="middle" >25</text>
<text transform="translate(558.4,2455.6) scale(0.97,1)" font-size="55.5" font-weight="bold" text-anchor="middle" >40</text>
<text transform="translate(655.4,2455.6) scale(0.97,1)" font-size="55.5" font-weight="bold" text-anchor="middle" >55</text>
<text transform="translate(751.8,2455.6) scale(0.97,1)" font-size="55.5" font-weight="bold" text-anchor="middle" >70</text>
<text x="213.9" y="1791.0" font-size="81.5" text-anchor="start" >(c)</text>
<text x="512.8" y="2542.4" font-size="55" font-weight="bold" text-anchor="middle">Form Temp (<tspan font-size="27" dy="-13.5">o</tspan><tspan dy="13.5">C)</tspan></text>
<rect x="950.7" y="1934.1" width="72.2" height="454.7" fill="#6b35a0" stroke="#000" stroke-width="2.7"/>
<rect x="1046.6" y="1922.4" width="72.2" height="466.4" fill="#6b35a0" stroke="#000" stroke-width="2.7"/>
<rect x="1142.6" y="1943.6" width="72.2" height="445.2" fill="#6b35a0" stroke="#000" stroke-width="2.7"/>
<rect x="1238.0" y="2059.6" width="72.2" height="329.2" fill="#6b35a0" stroke="#000" stroke-width="2.7"/>
<rect x="1334.4" y="2159.9" width="72.2" height="228.9" fill="#6b35a0" stroke="#000" stroke-width="2.7"/>
<rect x="1430.1" y="2372.3" width="72.2" height="16.5" fill="#6b35a0" stroke="#000" stroke-width="2.7"/>
<rect x="890.9" y="1716.0" width="671.5" height="672.8" fill="none" stroke="#000" stroke-width="2.6"/>
<line x1="986.8" y1="1929.7" x2="986.8" y2="1938.7" stroke="#000" stroke-width="1.3" stroke-opacity="0.6"/>
<line x1="975.8" y1="1929.7" x2="997.8" y2="1929.7" stroke="#000" stroke-width="1.3" stroke-opacity="0.6"/>
<line x1="975.8" y1="1938.7" x2="997.8" y2="1938.7" stroke="#000" stroke-width="1.3" stroke-opacity="0.6"/>
<circle cx="986.8" cy="1934.1" r="5.9" fill="#000"/>
<line x1="1082.7" y1="1920.6" x2="1082.7" y2="1924.2" stroke="#000" stroke-width="1.3" stroke-opacity="0.6"/>
<line x1="1071.7" y1="1920.6" x2="1093.7" y2="1920.6" stroke="#000" stroke-width="1.3" stroke-opacity="0.6"/>
<line x1="1071.7" y1="1924.2" x2="1093.7" y2="1924.2" stroke="#000" stroke-width="1.3" stroke-opacity="0.6"/>
<circle cx="1082.7" cy="1922.4" r="5.9" fill="#000"/>
<line x1="1178.7" y1="1939.1" x2="1178.7" y2="1949.0" stroke="#000" stroke-width="1.3" stroke-opacity="0.6"/>
<line x1="1167.7" y1="1939.1" x2="1189.7" y2="1939.1" stroke="#000" stroke-width="1.3" stroke-opacity="0.6"/>
<line x1="1167.7" y1="1949.0" x2="1189.7" y2="1949.0" stroke="#000" stroke-width="1.3" stroke-opacity="0.6"/>
<circle cx="1178.7" cy="1943.6" r="5.9" fill="#000"/>
<line x1="1274.1" y1="2034.9" x2="1274.1" y2="2083.8" stroke="#000" stroke-width="1.3" stroke-opacity="0.6"/>
<line x1="1263.3" y1="2034.9" x2="1284.9" y2="2034.9" stroke="#000" stroke-width="1.3" stroke-opacity="0.6"/>
<line x1="1263.3" y1="2083.8" x2="1284.9" y2="2083.8" stroke="#000" stroke-width="1.3" stroke-opacity="0.6"/>
<circle cx="1274.1" cy="2059.6" r="5.9" fill="#000"/>
<line x1="1370.5" y1="2152.4" x2="1370.5" y2="2167.3" stroke="#000" stroke-width="1.3" stroke-opacity="0.6"/>
<line x1="1359.5" y1="2152.4" x2="1381.5" y2="2152.4" stroke="#000" stroke-width="1.3" stroke-opacity="0.6"/>
<line x1="1359.5" y1="2167.3" x2="1381.5" y2="2167.3" stroke="#000" stroke-width="1.3" stroke-opacity="0.6"/>
<circle cx="1370.5" cy="2159.9" r="5.9" fill="#000"/>
<line x1="1466.2" y1="2320.2" x2="1466.2" y2="2424.1" stroke="#000" stroke-width="1.3" stroke-opacity="0.6"/>
<line x1="1455.2" y1="2320.2" x2="1477.2" y2="2320.2" stroke="#000" stroke-width="1.3" stroke-opacity="0.6"/>
<circle cx="1466.2" cy="2372.3" r="5.9" fill="#000"/>
<line x1="891.5" y1="1783.3" x2="902.1" y2="1783.3" stroke="#000" stroke-width="2.6" stroke-linecap="round"/>
<line x1="1561.8" y1="1783.3" x2="1551.2" y2="1783.3" stroke="#000" stroke-width="2.6" stroke-linecap="round"/>
<line x1="891.5" y1="1850.6" x2="913.9" y2="1850.6" stroke="#000" stroke-width="2.6" stroke-linecap="round"/>
<line x1="1561.8" y1="1850.6" x2="1539.4" y2="1850.6" stroke="#000" stroke-width="2.6" stroke-linecap="round"/>
<line x1="891.5" y1="1917.8" x2="902.1" y2="1917.8" stroke="#000" stroke-width="2.6" stroke-linecap="round"/>
<line x1="1561.8" y1="1917.8" x2="1551.2" y2="1917.8" stroke="#000" stroke-width="2.6" stroke-linecap="round"/>
<line x1="891.5" y1="1985.1" x2="913.9" y2="1985.1" stroke="#000" stroke-width="2.6" stroke-linecap="round"/>
<line x1="1561.8" y1="1985.1" x2="1539.4" y2="1985.1" stroke="#000" stroke-width="2.6" stroke-linecap="round"/>
<line x1="891.5" y1="2052.4" x2="902.1" y2="2052.4" stroke="#000" stroke-width="2.6" stroke-linecap="round"/>
<line x1="1561.8" y1="2052.4" x2="1551.2" y2="2052.4" stroke="#000" stroke-width="2.6" stroke-linecap="round"/>
<line x1="891.5" y1="2119.7" x2="913.9" y2="2119.7" stroke="#000" stroke-width="2.6" stroke-linecap="round"/>
<line x1="1561.8" y1="2119.7" x2="1539.4" y2="2119.7" stroke="#000" stroke-width="2.6" stroke-linecap="round"/>
<line x1="891.5" y1="2187.0" x2="902.1" y2="2187.0" stroke="#000" stroke-width="2.6" stroke-linecap="round"/>
<line x1="1561.8" y1="2187.0" x2="1551.2" y2="2187.0" stroke="#000" stroke-width="2.6" stroke-linecap="round"/>
<line x1="891.5" y1="2254.2" x2="913.9" y2="2254.2" stroke="#000" stroke-width="2.6" stroke-linecap="round"/>
<line x1="1561.8" y1="2254.2" x2="1539.4" y2="2254.2" stroke="#000" stroke-width="2.6" stroke-linecap="round"/>
<line x1="891.5" y1="2321.5" x2="902.1" y2="2321.5" stroke="#000" stroke-width="2.6" stroke-linecap="round"/>
<line x1="1561.8" y1="2321.5" x2="1551.2" y2="2321.5" stroke="#000" stroke-width="2.6" stroke-linecap="round"/>
<text transform="translate(987.0,2455.8) scale(0.97,1)" font-size="55.5" font-weight="bold" text-anchor="middle" >-10</text>
<text transform="translate(1082.5,2455.8) scale(0.97,1)" font-size="55.5" font-weight="bold" text-anchor="middle" >0</text>
<text transform="translate(1177.0,2455.8) scale(0.97,1)" font-size="55.5" font-weight="bold" text-anchor="middle" >25</text>
<text transform="translate(1272.2,2455.8) scale(0.97,1)" font-size="55.5" font-weight="bold" text-anchor="middle" >40</text>
<text transform="translate(1369.0,2455.8) scale(0.97,1)" font-size="55.5" font-weight="bold" text-anchor="middle" >55</text>
<text transform="translate(1465.9,2455.8) scale(0.97,1)" font-size="55.5" font-weight="bold" text-anchor="middle" >70</text>
<text x="934.1" y="1790.8" font-size="81.5" text-anchor="start" >(f)</text>
<text x="1226.7" y="2542.6" font-size="55" font-weight="bold" text-anchor="middle">Form Temp (<tspan font-size="27" dy="-13.5">o</tspan><tspan dy="13.5">C)</tspan></text>
<text transform="translate(42.3,2051) rotate(-90)" font-size="54.7" font-weight="bold" text-anchor="middle">FCE</text>
</svg>
</body></html>
